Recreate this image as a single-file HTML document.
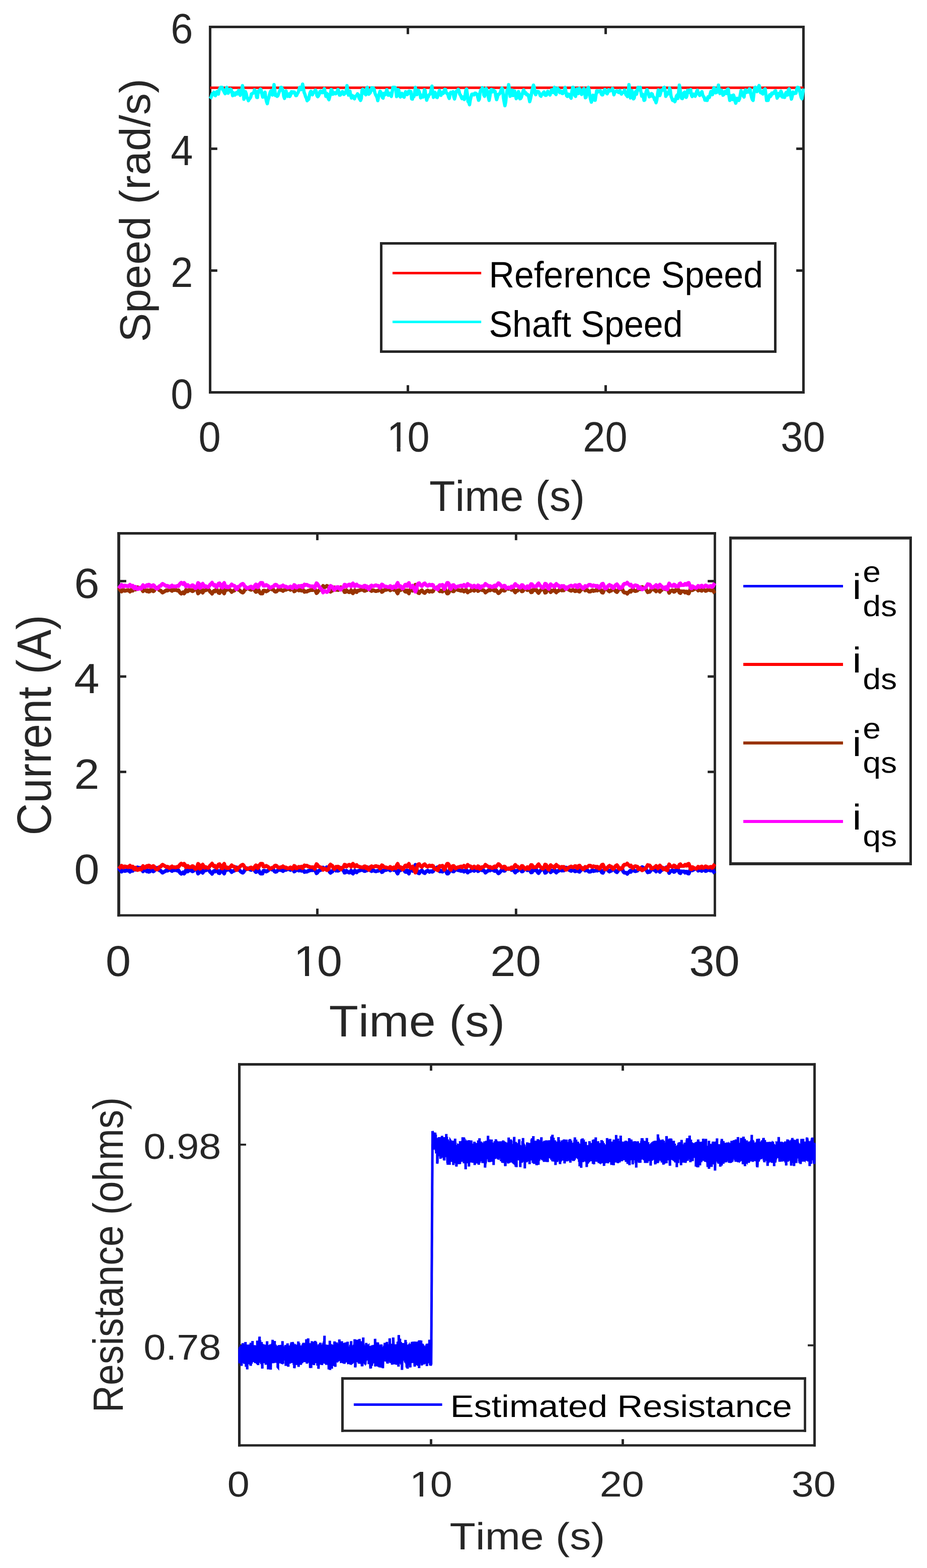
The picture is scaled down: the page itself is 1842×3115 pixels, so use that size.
<!DOCTYPE html>
<html lang="en"><head><meta charset="utf-8"><title>Figure</title>
<style>
html,body{margin:0;padding:0;background:#fff}
body{width:1842px;height:3115px;overflow:hidden}
svg{display:block;font-family:'Liberation Sans', 'DejaVu Sans', sans-serif}
text{font-kerning:none;text-rendering:geometricPrecision}
</style></head><body>
<svg width="1842" height="3115" viewBox="0 0 1842 3115">
<rect width="1842" height="3115" fill="#ffffff"/>
<g id="plot1">
<clipPath id="c1"><rect x="415.0" y="53.5" width="1184.0" height="726.0"/></clipPath>
<rect x="415.00" y="51.00" width="1184.00" height="5.00" fill="#262626"/>
<rect x="415.00" y="777.00" width="1184.00" height="5.00" fill="#262626"/>
<rect x="415.00" y="51.00" width="5.00" height="731.00" fill="#262626"/>
<rect x="1594.00" y="51.00" width="5.00" height="731.00" fill="#262626"/>
<line x1="810.50" y1="779.50" x2="810.50" y2="765.20" stroke="#262626" stroke-width="5" stroke-linecap="butt"/>
<line x1="810.50" y1="53.50" x2="810.50" y2="67.80" stroke="#262626" stroke-width="5" stroke-linecap="butt"/>
<line x1="1203.50" y1="779.50" x2="1203.50" y2="765.20" stroke="#262626" stroke-width="5" stroke-linecap="butt"/>
<line x1="1203.50" y1="53.50" x2="1203.50" y2="67.80" stroke="#262626" stroke-width="5" stroke-linecap="butt"/>
<line x1="417.50" y1="537.50" x2="431.80" y2="537.50" stroke="#262626" stroke-width="5" stroke-linecap="butt"/>
<line x1="1596.50" y1="537.50" x2="1582.20" y2="537.50" stroke="#262626" stroke-width="5" stroke-linecap="butt"/>
<line x1="417.50" y1="295.50" x2="431.80" y2="295.50" stroke="#262626" stroke-width="5" stroke-linecap="butt"/>
<line x1="1596.50" y1="295.50" x2="1582.20" y2="295.50" stroke="#262626" stroke-width="5" stroke-linecap="butt"/>
<rect x="417.50" y="171.80" width="1179.00" height="5.00" fill="#ff0000"/>
<polyline points="417.5,196.0 419.0,194.0 420.5,190.0 422.0,186.0 423.5,186.1 425.0,183.3 426.5,188.9 428.0,190.0 429.5,186.7 430.9,182.2 432.4,186.1 433.9,186.9 435.4,178.8 436.9,175.5 438.4,173.5 439.9,173.5 441.4,173.5 442.9,178.6 444.4,180.1 445.9,183.9 447.4,186.0 448.9,179.1 450.4,173.5 451.9,176.3 453.4,185.2 454.9,182.4 456.4,178.0 457.8,176.8 459.3,178.0 460.8,183.4 462.3,190.1 463.8,184.1 465.3,186.1 466.8,188.8 468.3,186.2 469.8,183.6 471.3,186.5 472.8,183.9 474.3,179.6 475.8,186.4 477.3,189.3 478.8,182.3 480.3,178.0 481.8,170.0 483.2,179.4 484.7,197.1 486.2,191.0 487.7,182.0 489.2,186.0 490.7,193.1 492.2,196.2 493.7,200.0 495.2,196.7 496.7,195.4 498.2,192.9 499.7,186.5 501.2,185.9 502.7,185.1 504.2,183.9 505.7,178.7 507.2,180.7 508.7,185.8 510.1,193.5 511.6,193.6 513.1,181.2 514.6,180.1 516.1,182.5 517.6,176.9 519.1,179.7 520.6,187.6 522.1,193.0 523.6,192.3 525.1,185.6 526.6,183.2 528.1,194.9 529.6,201.7 531.1,206.0 532.6,198.6 534.1,194.0 535.5,188.2 537.0,182.9 538.5,180.4 540.0,182.5 541.5,188.8 543.0,180.2 544.5,168.0 546.0,179.1 547.5,189.7 549.0,188.8 550.5,191.4 552.0,190.5 553.5,186.3 555.0,182.1 556.5,179.5 558.0,173.5 559.5,173.5 561.0,176.4 562.4,181.2 563.9,191.5 565.4,195.5 566.9,186.6 568.4,180.6 569.9,188.3 571.4,191.2 572.9,188.1 574.4,186.6 575.9,191.7 577.4,188.5 578.9,182.3 580.4,184.9 581.9,182.5 583.4,182.7 584.9,182.8 586.4,186.5 587.8,190.0 589.3,189.7 590.8,186.2 592.3,184.0 593.8,179.1 595.3,173.5 596.8,175.8 598.3,178.0 599.8,173.2 601.3,167.0 602.8,174.3 604.3,183.7 605.8,187.0 607.3,192.2 608.8,194.9 610.3,200.0 611.8,197.9 613.3,197.3 614.7,190.3 616.2,183.9 617.7,181.4 619.2,185.0 620.7,188.2 622.2,185.2 623.7,182.4 625.2,181.4 626.7,178.9 628.2,181.1 629.7,189.7 631.2,192.1 632.7,190.6 634.2,187.6 635.7,182.0 637.2,181.0 638.7,182.3 640.2,184.2 641.6,183.8 643.1,179.8 644.6,176.0 646.1,184.0 647.6,191.5 649.1,185.4 650.6,186.8 652.1,195.2 653.6,198.0 655.1,192.4 656.6,186.5 658.1,177.8 659.6,179.2 661.1,187.2 662.6,186.7 664.1,184.0 665.6,184.5 667.0,186.2 668.5,185.2 670.0,181.4 671.5,177.6 673.0,181.3 674.5,188.9 676.0,189.0 677.5,184.6 679.0,186.5 680.5,181.8 682.0,185.2 683.5,187.5 685.0,185.4 686.5,185.3 688.0,179.2 689.5,170.0 691.0,181.4 692.5,188.8 693.9,181.4 695.4,181.2 696.9,190.2 698.4,194.6 699.9,189.7 701.4,190.9 702.9,194.7 704.4,196.2 705.9,192.0 707.4,190.3 708.9,189.8 710.4,186.3 711.9,188.2 713.4,194.5 714.9,196.9 716.4,199.5 717.9,195.4 719.3,180.3 720.8,177.2 722.3,183.3 723.8,185.1 725.3,186.3 726.8,188.2 728.3,175.5 729.8,173.5 731.3,182.1 732.8,187.2 734.3,185.5 735.8,183.9 737.3,177.9 738.8,174.3 740.3,178.9 741.8,174.7 743.3,177.0 744.8,184.0 746.2,187.9 747.7,190.5 749.2,193.6 750.7,200.0 752.2,191.9 753.7,185.9 755.2,181.3 756.7,183.0 758.2,188.6 759.7,193.5 761.2,194.9 762.7,185.6 764.2,187.5 765.7,188.0 767.2,182.4 768.7,178.2 770.2,183.8 771.6,189.1 773.1,188.3 774.6,185.1 776.1,188.7 777.6,191.5 779.1,184.4 780.6,173.5 782.1,173.6 783.6,173.5 785.1,173.5 786.6,179.5 788.1,191.9 789.6,186.5 791.1,177.8 792.6,180.2 794.1,190.5 795.6,192.6 797.1,188.1 798.5,185.4 800.0,187.9 801.5,191.9 803.0,193.0 804.5,185.6 806.0,182.3 807.5,185.5 809.0,187.9 810.5,186.8 812.0,181.4 813.5,181.0 815.0,182.0 816.5,182.1 818.0,196.5 819.5,196.9 821.0,190.3 822.5,192.0 823.9,184.7 825.4,173.5 826.9,181.6 828.4,188.1 829.9,183.3 831.4,179.5 832.9,181.7 834.4,186.5 835.9,194.4 837.4,189.2 838.9,190.3 840.4,192.8 841.9,186.4 843.4,178.4 844.9,180.3 846.4,192.3 847.9,199.1 849.4,193.6 850.8,192.7 852.3,188.7 853.8,187.4 855.3,185.4 856.8,177.5 858.3,171.0 859.8,183.9 861.3,193.5 862.8,185.5 864.3,183.5 865.8,187.9 867.3,193.2 868.8,193.8 870.3,189.5 871.8,182.7 873.3,179.8 874.8,185.3 876.2,189.4 877.7,185.9 879.2,183.2 880.7,185.7 882.2,182.0 883.7,177.4 885.2,177.8 886.7,183.7 888.2,186.1 889.7,186.1 891.2,192.4 892.7,195.5 894.2,187.7 895.7,183.4 897.2,186.0 898.7,184.3 900.2,182.2 901.7,192.3 903.1,196.6 904.6,191.1 906.1,182.1 907.6,180.7 909.1,181.7 910.6,177.3 912.1,180.9 913.6,187.3 915.1,189.0 916.6,193.1 918.1,195.9 919.6,192.6 921.1,193.4 922.6,197.6 924.1,190.0 925.6,179.9 927.1,176.8 928.5,186.4 930.0,201.6 931.5,203.1 933.0,208.0 934.5,198.4 936.0,192.4 937.5,187.3 939.0,186.9 940.5,188.2 942.0,188.4 943.5,185.1 945.0,185.1 946.5,187.3 948.0,187.1 949.5,193.7 951.0,199.2 952.5,196.7 954.0,183.2 955.4,178.7 956.9,178.9 958.4,174.1 959.9,177.2 961.4,188.7 962.9,191.3 964.4,181.6 965.9,175.4 967.4,178.8 968.9,183.7 970.4,193.0 971.9,199.5 973.4,191.5 974.9,180.4 976.4,177.7 977.9,182.5 979.4,180.8 980.8,179.3 982.3,182.5 983.8,181.7 985.3,191.8 986.8,198.0 988.3,193.4 989.8,187.5 991.3,187.6 992.8,186.1 994.3,183.2 995.8,178.6 997.3,174.9 998.8,176.9 1000.3,193.9 1001.8,202.8 1003.3,210.0 1004.8,202.9 1006.3,188.4 1007.7,179.2 1009.2,177.7 1010.7,168.0 1012.2,178.7 1013.7,191.3 1015.2,187.0 1016.7,179.0 1018.2,179.3 1019.7,189.7 1021.2,185.6 1022.7,181.0 1024.2,188.6 1025.7,195.9 1027.2,194.1 1028.7,188.0 1030.2,181.9 1031.7,186.4 1033.2,196.2 1034.6,195.6 1036.1,193.0 1037.6,187.5 1039.1,181.8 1040.6,178.8 1042.1,182.7 1043.6,186.0 1045.1,184.6 1046.6,188.4 1048.1,187.3 1049.6,188.5 1051.1,194.7 1052.6,202.0 1054.1,196.1 1055.6,189.0 1057.1,179.7 1058.6,174.2 1060.0,169.0 1061.5,173.1 1063.0,185.8 1064.5,188.1 1066.0,181.9 1067.5,181.9 1069.0,181.8 1070.5,182.5 1072.0,185.7 1073.5,189.8 1075.0,191.2 1076.5,187.0 1078.0,186.7 1079.5,184.0 1081.0,182.7 1082.5,188.5 1084.0,189.4 1085.5,189.3 1086.9,185.8 1088.4,181.4 1089.9,183.6 1091.4,186.8 1092.9,188.7 1094.4,183.8 1095.9,178.5 1097.4,179.3 1098.9,183.7 1100.4,177.4 1101.9,173.5 1103.4,186.2 1104.9,187.7 1106.4,177.5 1107.9,175.1 1109.4,177.2 1110.9,179.0 1112.3,184.1 1113.8,180.9 1115.3,181.3 1116.8,185.8 1118.3,185.9 1119.8,183.7 1121.3,179.7 1122.8,173.5 1124.3,181.1 1125.8,190.0 1127.3,191.6 1128.8,186.8 1130.3,187.3 1131.8,188.0 1133.3,193.0 1134.8,195.0 1136.3,182.3 1137.8,173.5 1139.2,173.5 1140.7,179.3 1142.2,189.6 1143.7,191.5 1145.2,180.4 1146.7,176.7 1148.2,186.0 1149.7,185.6 1151.2,175.4 1152.7,178.0 1154.2,183.7 1155.7,187.7 1157.2,182.1 1158.7,179.4 1160.2,175.9 1161.7,182.6 1163.2,194.2 1164.6,193.3 1166.1,184.1 1167.6,176.0 1169.1,173.5 1170.6,178.9 1172.1,191.0 1173.6,197.7 1175.1,203.0 1176.6,195.5 1178.1,189.2 1179.6,189.7 1181.1,198.8 1182.6,199.2 1184.1,189.4 1185.6,180.5 1187.1,183.6 1188.6,180.7 1190.1,181.4 1191.5,181.7 1193.0,180.2 1194.5,186.0 1196.0,188.4 1197.5,188.5 1199.0,184.6 1200.5,180.0 1202.0,177.8 1203.5,182.6 1205.0,185.2 1206.5,186.3 1208.0,183.3 1209.5,178.1 1211.0,180.6 1212.5,180.5 1214.0,179.6 1215.5,179.1 1216.9,175.6 1218.4,181.1 1219.9,188.3 1221.4,183.8 1222.9,182.7 1224.4,181.1 1225.9,180.5 1227.4,181.5 1228.9,183.5 1230.4,181.7 1231.9,179.9 1233.4,185.0 1234.9,186.9 1236.4,183.8 1237.9,184.1 1239.4,183.4 1240.9,178.8 1242.4,184.0 1243.8,188.2 1245.3,189.8 1246.8,191.9 1248.3,181.5 1249.8,168.0 1251.3,182.3 1252.8,194.5 1254.3,184.6 1255.8,180.2 1257.3,189.9 1258.8,196.4 1260.3,194.4 1261.8,185.1 1263.3,181.7 1264.8,187.2 1266.3,180.3 1267.8,173.5 1269.2,178.4 1270.7,176.8 1272.2,173.6 1273.7,183.7 1275.2,191.0 1276.7,187.0 1278.2,191.2 1279.7,199.5 1281.2,198.6 1282.7,187.6 1284.2,181.4 1285.7,178.1 1287.2,182.1 1288.7,186.0 1290.2,192.3 1291.7,189.7 1293.2,190.8 1294.7,186.0 1296.1,187.0 1297.6,191.8 1299.1,193.2 1300.6,198.1 1302.1,199.3 1303.6,204.0 1305.1,198.5 1306.6,187.0 1308.1,178.5 1309.6,184.3 1311.1,189.9 1312.6,185.0 1314.1,178.9 1315.6,178.6 1317.1,179.1 1318.6,174.4 1320.1,173.5 1321.5,179.7 1323.0,191.4 1324.5,188.4 1326.0,184.2 1327.5,186.7 1329.0,184.9 1330.5,174.9 1332.0,180.0 1333.5,191.9 1335.0,195.2 1336.5,199.5 1338.0,199.7 1339.5,198.3 1341.0,202.0 1342.5,197.6 1344.0,191.2 1345.5,188.7 1347.0,195.6 1348.4,183.9 1349.9,169.0 1351.4,177.2 1352.9,189.8 1354.4,195.3 1355.9,195.8 1357.4,192.0 1358.9,184.2 1360.4,183.1 1361.9,186.7 1363.4,193.5 1364.9,190.3 1366.4,179.2 1367.9,179.2 1369.4,183.6 1370.9,179.6 1372.4,178.0 1373.8,188.8 1375.3,191.8 1376.8,189.0 1378.3,187.1 1379.8,190.1 1381.3,191.2 1382.8,187.9 1384.3,181.6 1385.8,179.3 1387.3,184.2 1388.8,186.7 1390.3,189.6 1391.8,186.9 1393.3,183.9 1394.8,182.2 1396.3,188.6 1397.8,191.7 1399.3,193.3 1400.7,199.0 1402.2,199.0 1403.7,199.3 1405.2,199.5 1406.7,192.4 1408.2,191.9 1409.7,193.4 1411.2,186.7 1412.7,181.8 1414.2,185.9 1415.7,188.1 1417.2,179.1 1418.7,174.1 1420.2,175.8 1421.7,184.5 1423.2,182.2 1424.7,183.2 1426.2,179.5 1427.6,169.0 1429.1,178.6 1430.6,185.8 1432.1,181.3 1433.6,179.3 1435.1,182.7 1436.6,189.2 1438.1,188.1 1439.6,182.2 1441.1,181.6 1442.6,185.4 1444.1,185.7 1445.6,177.2 1447.1,176.8 1448.6,190.8 1450.1,199.5 1451.6,197.8 1453.0,190.1 1454.5,194.5 1456.0,197.7 1457.5,188.8 1459.0,192.9 1460.5,200.9 1462.0,205.0 1463.5,199.9 1465.0,195.3 1466.5,198.6 1468.0,199.5 1469.5,196.2 1471.0,187.9 1472.5,180.1 1474.0,185.4 1475.5,188.1 1477.0,190.7 1478.5,192.7 1479.9,181.0 1481.4,178.8 1482.9,183.6 1484.4,183.1 1485.9,181.9 1487.4,182.7 1488.9,176.5 1490.4,177.1 1491.9,186.7 1493.4,193.3 1494.9,197.6 1496.4,199.5 1497.9,187.2 1499.4,175.2 1500.9,173.5 1502.4,178.4 1503.9,182.0 1505.3,181.0 1506.8,173.4 1508.3,170.0 1509.8,175.4 1511.3,184.2 1512.8,184.3 1514.3,185.1 1515.8,186.6 1517.3,180.2 1518.8,178.4 1520.3,176.4 1521.8,186.7 1523.3,199.5 1524.8,199.5 1526.3,199.5 1527.8,193.2 1529.3,188.4 1530.8,191.7 1532.2,189.9 1533.7,184.8 1535.2,186.5 1536.7,184.2 1538.2,185.1 1539.7,180.9 1541.2,180.3 1542.7,187.6 1544.2,194.9 1545.7,191.5 1547.2,185.5 1548.7,190.1 1550.2,190.1 1551.7,181.0 1553.2,183.9 1554.7,192.8 1556.2,190.7 1557.6,193.3 1559.1,193.5 1560.6,186.4 1562.1,183.7 1563.6,189.0 1565.1,188.7 1566.6,178.4 1568.1,176.6 1569.6,183.6 1571.1,189.6 1572.6,196.8 1574.1,191.3 1575.6,182.8 1577.1,185.1 1578.6,185.9 1580.1,184.3 1581.6,185.0 1583.1,177.1 1584.5,173.5 1586.0,173.7 1587.5,174.8 1589.0,180.9 1590.5,187.1 1592.0,193.6 1593.5,196.2 1595.0,186.2 1596.5,176.0" fill="none" stroke="#00ffff" stroke-width="6.6" stroke-linejoin="round" stroke-linecap="butt" clip-path="url(#c1)"/>
<text transform="translate(383.50,812.10) scale(1.0000,1.0608)" font-size="79.4" text-anchor="end" fill="#262626">0</text>
<text transform="translate(383.50,570.10) scale(1.0000,1.0608)" font-size="79.4" text-anchor="end" fill="#262626">2</text>
<text transform="translate(383.50,328.10) scale(1.0000,1.0608)" font-size="79.4" text-anchor="end" fill="#262626">4</text>
<text transform="translate(383.50,86.10) scale(1.0000,1.0608)" font-size="79.4" text-anchor="end" fill="#262626">6</text>
<text transform="translate(416.50,897.00) scale(1.0000,1.0608)" font-size="79.4" text-anchor="middle" fill="#262626">0</text>
<g transform="translate(765.34,897.00) scale(1.0000,1.0608)">
<text font-size="79.4" fill="#262626"><tspan dx="3.37">1</tspan><tspan dx="-3.37">0</tspan></text>
<rect x="7.87" y="-8.26" width="15.47" height="9.81" fill="#fff"/>
<rect x="30.36" y="-8.26" width="15.24" height="9.81" fill="#fff"/>
</g>
<text transform="translate(1202.50,897.00) scale(1.0000,1.0608)" font-size="79.4" text-anchor="middle" fill="#262626">20</text>
<text transform="translate(1595.50,897.00) scale(1.0000,1.0608)" font-size="79.4" text-anchor="middle" fill="#262626">30</text>
<text transform="translate(1007.60,1015.00) scale(0.9970,1.0100)" font-size="84.6" text-anchor="middle" fill="#262626">Time (s)</text>
<text transform="translate(298.10,417.90) rotate(-90) scale(1.0210,1.0100)" font-size="84.6" text-anchor="middle" fill="#262626">Speed (rad/s)</text>
<rect x="755.00" y="481.00" width="788.00" height="220.00" fill="#ffffff"/>
<rect x="755.00" y="481.00" width="788.00" height="5.00" fill="#262626"/>
<rect x="755.00" y="696.00" width="788.00" height="5.00" fill="#262626"/>
<rect x="755.00" y="481.00" width="5.00" height="220.00" fill="#262626"/>
<rect x="1538.00" y="481.00" width="5.00" height="220.00" fill="#262626"/>
<rect x="780.00" y="540.00" width="176.20" height="5.00" fill="#ff0000"/>
<rect x="780.00" y="637.00" width="176.20" height="5.00" fill="#00ffff"/>
<text transform="translate(971.40,570.60) scale(1.0000,1.0450)" font-size="70" text-anchor="start" fill="#000">Reference Speed</text>
<text transform="translate(971.40,668.50) scale(1.0000,1.0450)" font-size="70" text-anchor="start" fill="#000">Shaft Speed</text>
</g>
<g id="plot2">
<clipPath id="c2"><rect x="233.3" y="1059.55" width="1189.9" height="758.9000000000001"/></clipPath>
<rect x="233.10" y="1057.00" width="1189.80" height="5.10" fill="#262626"/>
<rect x="233.10" y="1816.20" width="1189.80" height="4.50" fill="#262626"/>
<rect x="233.10" y="1057.00" width="5.80" height="763.70" fill="#262626"/>
<rect x="1418.10" y="1057.00" width="4.80" height="763.70" fill="#262626"/>
<rect x="628.10" y="1805.05" width="4.90" height="11.45" fill="#262626"/>
<rect x="628.10" y="1061.80" width="4.90" height="11.35" fill="#262626"/>
<rect x="1022.95" y="1805.05" width="4.90" height="11.45" fill="#262626"/>
<rect x="1022.95" y="1061.80" width="4.90" height="11.35" fill="#262626"/>
<rect x="238.60" y="1720.48" width="12.30" height="4.90" fill="#262626"/>
<rect x="1406.20" y="1720.48" width="12.20" height="4.90" fill="#262626"/>
<rect x="238.60" y="1531.00" width="12.30" height="4.90" fill="#262626"/>
<rect x="1406.20" y="1531.00" width="12.20" height="4.90" fill="#262626"/>
<rect x="238.60" y="1341.52" width="12.30" height="4.90" fill="#262626"/>
<rect x="1406.20" y="1341.52" width="12.20" height="4.90" fill="#262626"/>
<rect x="238.60" y="1152.04" width="12.30" height="4.90" fill="#262626"/>
<rect x="1406.20" y="1152.04" width="12.20" height="4.90" fill="#262626"/>
<polyline points="236.0,1723.0 237.9,1727.5 239.7,1729.6 241.6,1731.6 243.4,1728.7 245.3,1728.0 247.1,1730.3 249.0,1730.2 250.8,1729.2 252.7,1729.5 254.5,1728.6 256.4,1730.0 258.2,1731.8 260.1,1728.5 262.0,1729.8 263.8,1730.1 265.7,1725.6 267.5,1724.3 269.4,1727.8 271.2,1725.1 273.1,1723.1 274.9,1723.6 276.8,1725.9 278.6,1723.9 280.5,1723.9 282.3,1727.9 284.2,1731.0 286.0,1727.7 287.9,1727.3 289.8,1729.7 291.6,1731.1 293.5,1729.2 295.3,1732.0 297.2,1731.7 299.0,1728.2 300.9,1727.9 302.7,1730.0 304.6,1731.2 306.4,1729.9 308.3,1726.5 310.1,1724.6 312.0,1724.0 313.9,1724.8 315.7,1728.1 317.6,1729.6 319.4,1729.7 321.3,1732.4 323.1,1733.8 325.0,1732.4 326.8,1731.6 328.7,1730.2 330.5,1728.9 332.4,1729.8 334.2,1729.0 336.1,1727.0 338.0,1727.4 339.8,1729.2 341.7,1730.4 343.5,1728.4 345.4,1728.6 347.2,1728.9 349.1,1728.0 350.9,1728.9 352.8,1729.8 354.6,1729.1 356.5,1732.1 358.3,1734.4 360.2,1736.0 362.1,1734.4 363.9,1733.0 365.8,1735.5 367.6,1733.5 369.5,1728.4 371.3,1729.1 373.2,1731.3 375.0,1728.5 376.9,1728.5 378.7,1729.3 380.6,1728.8 382.4,1731.1 384.3,1730.3 386.1,1727.1 388.0,1724.9 389.9,1725.5 391.7,1729.7 393.6,1735.5 395.4,1734.0 397.3,1725.6 399.1,1726.4 401.0,1731.8 402.8,1734.0 404.7,1730.7 406.5,1727.4 408.4,1729.2 410.2,1728.6 412.1,1727.4 414.0,1727.2 415.8,1729.0 417.7,1732.3 419.5,1733.7 421.4,1736.0 423.2,1732.2 425.1,1730.3 426.9,1731.5 428.8,1728.3 430.6,1727.1 432.5,1730.9 434.3,1734.2 436.2,1734.8 438.1,1730.2 439.9,1727.1 441.8,1726.2 443.6,1733.2 445.5,1735.5 447.3,1729.4 449.2,1727.2 451.0,1728.4 452.9,1726.6 454.7,1727.1 456.6,1728.7 458.4,1729.9 460.3,1732.5 462.1,1730.9 464.0,1730.3 465.9,1729.7 467.7,1726.7 469.6,1723.0 471.4,1723.6 473.3,1728.0 475.1,1728.3 477.0,1729.7 478.8,1732.0 480.7,1733.0 482.5,1733.8 484.4,1731.9 486.2,1728.1 488.1,1727.6 490.0,1725.4 491.8,1725.0 493.7,1725.7 495.5,1726.8 497.4,1727.9 499.2,1728.3 501.1,1725.7 502.9,1724.5 504.8,1726.7 506.6,1730.3 508.5,1732.5 510.3,1731.5 512.2,1726.6 514.1,1728.7 515.9,1733.1 517.8,1735.5 519.6,1735.5 521.5,1735.5 523.3,1730.0 525.2,1729.8 527.0,1730.2 528.9,1731.6 530.7,1730.5 532.6,1729.7 534.4,1727.5 536.3,1725.3 538.1,1726.2 540.0,1727.5 541.9,1728.0 543.7,1728.3 545.6,1731.2 547.4,1732.0 549.3,1731.7 551.1,1729.8 553.0,1727.7 554.8,1727.6 556.7,1728.6 558.5,1728.3 560.4,1729.3 562.2,1730.6 564.1,1729.1 566.0,1727.8 567.8,1728.4 569.7,1727.4 571.5,1726.2 573.4,1726.7 575.2,1727.2 577.1,1728.4 578.9,1727.2 580.8,1725.1 582.6,1727.5 584.5,1731.4 586.3,1730.6 588.2,1726.4 590.1,1726.3 591.9,1728.4 593.8,1729.6 595.6,1728.2 597.5,1729.5 599.3,1730.0 601.2,1726.7 603.0,1729.4 604.9,1732.3 606.7,1731.0 608.6,1731.9 610.4,1731.6 612.3,1730.0 614.2,1729.8 616.0,1729.0 617.9,1728.7 619.7,1728.5 621.6,1728.7 623.4,1728.0 625.3,1725.5 627.1,1730.7 629.0,1734.9 630.8,1733.4 632.7,1730.2 634.5,1729.6 636.4,1728.6 638.2,1728.2 640.1,1726.9 642.0,1723.5 643.8,1725.8 645.7,1725.9 647.5,1724.5 649.4,1722.8 651.2,1723.6 653.1,1725.6 654.9,1731.9 656.8,1734.0 658.6,1732.5 660.5,1731.5 662.3,1727.6 664.2,1724.8 666.1,1726.9 667.9,1729.7 669.8,1728.3 671.6,1730.0 673.5,1729.1 675.3,1725.4 677.2,1724.2 679.0,1727.2 680.9,1728.1 682.7,1729.2 684.6,1733.7 686.4,1733.3 688.3,1729.8 690.2,1731.1 692.0,1732.8 693.9,1733.7 695.7,1732.9 697.6,1729.5 699.4,1733.9 701.3,1735.5 703.1,1733.0 705.0,1729.4 706.8,1732.4 708.7,1733.2 710.5,1730.5 712.4,1730.0 714.2,1729.8 716.1,1728.7 718.0,1728.6 719.8,1728.3 721.7,1727.8 723.5,1730.4 725.4,1730.6 727.2,1726.9 729.1,1729.0 730.9,1725.6 732.8,1723.4 734.6,1725.0 736.5,1729.6 738.3,1730.7 740.2,1729.1 742.1,1729.3 743.9,1730.0 745.8,1730.8 747.6,1731.0 749.5,1730.0 751.3,1730.1 753.2,1729.3 755.0,1726.0 756.9,1727.5 758.7,1732.6 760.6,1731.8 762.4,1729.5 764.3,1728.4 766.2,1728.6 768.0,1728.2 769.9,1727.4 771.7,1727.4 773.6,1727.2 775.4,1729.4 777.3,1728.2 779.1,1724.8 781.0,1726.6 782.8,1728.6 784.7,1727.9 786.5,1726.3 788.4,1732.7 790.2,1735.5 792.1,1730.3 794.0,1727.9 795.8,1729.1 797.7,1727.7 799.5,1724.2 801.4,1725.1 803.2,1728.6 805.1,1731.9 806.9,1732.3 808.8,1729.4 810.6,1732.7 812.5,1735.5 814.3,1729.2 816.2,1726.6 818.1,1727.7 819.9,1730.2 821.8,1726.2 823.6,1721.8 825.5,1718.0 827.3,1722.4 829.2,1731.4 831.0,1734.3 832.9,1735.0 834.7,1731.5 836.6,1730.4 838.4,1729.2 840.3,1731.9 842.2,1733.8 844.0,1734.7 845.9,1732.2 847.7,1730.7 849.6,1729.6 851.4,1730.6 853.3,1732.2 855.1,1730.9 857.0,1730.7 858.8,1732.0 860.7,1731.1 862.5,1727.1 864.4,1725.0 866.3,1725.7 868.1,1723.4 870.0,1722.5 871.8,1729.0 873.7,1731.2 875.5,1729.8 877.4,1731.3 879.2,1731.8 881.1,1727.5 882.9,1723.3 884.8,1727.3 886.6,1731.8 888.5,1735.5 890.3,1735.5 892.2,1733.0 894.1,1725.6 895.9,1723.4 897.8,1727.7 899.6,1731.1 901.5,1731.2 903.3,1729.2 905.2,1726.0 907.0,1727.4 908.9,1728.2 910.7,1728.9 912.6,1729.0 914.4,1729.7 916.3,1730.3 918.2,1728.2 920.0,1730.1 921.9,1731.8 923.7,1730.5 925.6,1728.0 927.4,1729.0 929.3,1733.5 931.1,1731.5 933.0,1731.0 934.8,1730.6 936.7,1728.0 938.5,1726.7 940.4,1729.2 942.3,1730.2 944.1,1728.7 946.0,1726.7 947.8,1726.8 949.7,1730.7 951.5,1729.7 953.4,1725.2 955.2,1726.0 957.1,1728.6 958.9,1729.1 960.8,1729.0 962.6,1730.4 964.5,1733.7 966.3,1732.2 968.2,1730.9 970.1,1729.5 971.9,1728.2 973.8,1729.4 975.6,1728.3 977.5,1726.9 979.3,1727.3 981.2,1729.5 983.0,1730.4 984.9,1728.1 986.7,1729.7 988.6,1732.9 990.4,1735.0 992.3,1733.8 994.2,1731.8 996.0,1729.1 997.9,1727.5 999.7,1728.7 1001.6,1730.1 1003.4,1729.6 1005.3,1724.8 1007.1,1725.3 1009.0,1726.1 1010.8,1726.5 1012.7,1725.1 1014.5,1725.1 1016.4,1728.3 1018.3,1727.1 1020.1,1727.3 1022.0,1730.9 1023.8,1733.4 1025.7,1730.0 1027.5,1730.5 1029.4,1729.1 1031.2,1727.5 1033.1,1725.9 1034.9,1726.5 1036.8,1731.3 1038.6,1731.1 1040.5,1728.5 1042.3,1726.2 1044.2,1724.8 1046.1,1727.3 1047.9,1728.9 1049.8,1725.4 1051.6,1725.4 1053.5,1730.1 1055.3,1733.2 1057.2,1732.8 1059.0,1728.4 1060.9,1728.1 1062.7,1729.1 1064.6,1728.8 1066.4,1728.8 1068.3,1732.7 1070.2,1734.5 1072.0,1731.5 1073.9,1729.4 1075.7,1727.8 1077.6,1725.7 1079.4,1725.6 1081.3,1728.8 1083.1,1734.0 1085.0,1733.4 1086.8,1730.0 1088.7,1725.1 1090.5,1723.6 1092.4,1730.0 1094.3,1732.9 1096.1,1729.6 1098.0,1730.3 1099.8,1729.7 1101.7,1727.5 1103.5,1731.4 1105.4,1733.5 1107.2,1730.4 1109.1,1730.8 1110.9,1729.1 1112.8,1726.6 1114.6,1728.8 1116.5,1729.6 1118.4,1728.3 1120.2,1729.5 1122.1,1727.2 1123.9,1723.5 1125.8,1723.6 1127.6,1726.8 1129.5,1727.4 1131.3,1728.5 1133.2,1729.6 1135.0,1730.2 1136.9,1729.0 1138.7,1728.3 1140.6,1729.4 1142.4,1731.0 1144.3,1730.9 1146.2,1727.1 1148.0,1726.7 1149.9,1731.4 1151.7,1731.9 1153.6,1729.1 1155.4,1727.9 1157.3,1725.5 1159.1,1724.5 1161.0,1726.0 1162.8,1729.5 1164.7,1728.3 1166.5,1728.3 1168.4,1730.0 1170.3,1731.7 1172.1,1731.8 1174.0,1731.3 1175.8,1729.4 1177.7,1729.0 1179.5,1730.7 1181.4,1729.9 1183.2,1729.8 1185.1,1727.9 1186.9,1729.7 1188.8,1728.7 1190.6,1725.6 1192.5,1726.4 1194.4,1730.7 1196.2,1733.4 1198.1,1734.0 1199.9,1730.2 1201.8,1724.4 1203.6,1724.7 1205.5,1725.5 1207.3,1728.2 1209.2,1730.3 1211.0,1731.6 1212.9,1729.5 1214.7,1730.0 1216.6,1726.5 1218.4,1724.9 1220.3,1726.8 1222.2,1730.0 1224.0,1731.8 1225.9,1732.9 1227.7,1730.5 1229.6,1725.8 1231.4,1724.9 1233.3,1726.9 1235.1,1725.7 1237.0,1727.5 1238.8,1732.1 1240.7,1733.9 1242.5,1733.7 1244.4,1734.0 1246.3,1736.0 1248.1,1734.0 1250.0,1732.1 1251.8,1730.2 1253.7,1732.0 1255.5,1728.7 1257.4,1726.9 1259.2,1728.4 1261.1,1730.4 1262.9,1730.9 1264.8,1730.1 1266.6,1729.8 1268.5,1724.6 1270.4,1724.9 1272.2,1727.0 1274.1,1724.9 1275.9,1722.5 1277.8,1723.3 1279.6,1725.3 1281.5,1725.5 1283.3,1726.6 1285.2,1729.7 1287.0,1733.1 1288.9,1732.3 1290.7,1732.4 1292.6,1730.1 1294.4,1726.0 1296.3,1726.3 1298.2,1727.1 1300.0,1728.5 1301.9,1729.1 1303.7,1731.3 1305.6,1728.9 1307.4,1726.1 1309.3,1729.7 1311.1,1732.2 1313.0,1729.6 1314.8,1728.7 1316.7,1726.1 1318.5,1724.4 1320.4,1726.3 1322.3,1727.1 1324.1,1723.1 1326.0,1722.5 1327.8,1729.6 1329.7,1734.4 1331.5,1731.7 1333.4,1730.4 1335.2,1729.3 1337.1,1729.5 1338.9,1732.3 1340.8,1731.5 1342.6,1728.5 1344.5,1729.4 1346.4,1728.8 1348.2,1728.2 1350.1,1733.8 1351.9,1734.7 1353.8,1731.0 1355.6,1731.4 1357.5,1731.3 1359.3,1731.2 1361.2,1733.6 1363.0,1731.7 1364.9,1731.8 1366.7,1735.2 1368.6,1735.5 1370.5,1731.1 1372.3,1725.2 1374.2,1724.6 1376.0,1729.0 1377.9,1727.9 1379.7,1726.9 1381.6,1726.3 1383.4,1725.5 1385.3,1726.6 1387.1,1729.7 1389.0,1728.5 1390.8,1727.2 1392.7,1729.6 1394.5,1730.2 1396.4,1727.4 1398.3,1727.4 1400.1,1728.7 1402.0,1730.6 1403.8,1730.0 1405.7,1728.3 1407.5,1727.8 1409.4,1728.9 1411.2,1729.1 1413.1,1729.6 1414.9,1727.2 1416.8,1728.5 1418.6,1732.3 1420.5,1735.1" fill="none" stroke="#0000ff" stroke-width="7.4" stroke-linejoin="round" stroke-linecap="butt" clip-path="url(#c2)"/>
<polyline points="236.0,1726.0 237.9,1724.0 239.7,1721.9 241.6,1719.9 243.4,1722.8 245.3,1723.5 247.1,1721.2 249.0,1721.3 250.8,1722.3 252.7,1722.0 254.5,1722.9 256.4,1721.5 258.2,1719.7 260.1,1723.0 262.0,1721.7 263.8,1721.4 265.7,1725.9 267.5,1727.2 269.4,1723.7 271.2,1726.4 273.1,1728.4 274.9,1727.9 276.8,1725.6 278.6,1727.6 280.5,1727.6 282.3,1723.6 284.2,1720.5 286.0,1723.8 287.9,1724.2 289.8,1721.8 291.6,1720.4 293.5,1722.3 295.3,1719.5 297.2,1719.8 299.0,1723.3 300.9,1723.6 302.7,1721.5 304.6,1720.3 306.4,1721.6 308.3,1725.0 310.1,1726.9 312.0,1727.5 313.9,1726.7 315.7,1723.4 317.6,1721.9 319.4,1721.8 321.3,1719.1 323.1,1717.7 325.0,1719.1 326.8,1719.9 328.7,1721.3 330.5,1722.6 332.4,1721.7 334.2,1722.5 336.1,1724.5 338.0,1724.1 339.8,1722.3 341.7,1721.1 343.5,1723.1 345.4,1722.9 347.2,1722.6 349.1,1723.5 350.9,1722.6 352.8,1721.7 354.6,1722.4 356.5,1719.4 358.3,1717.1 360.2,1715.5 362.1,1717.1 363.9,1718.5 365.8,1716.0 367.6,1718.0 369.5,1723.1 371.3,1722.4 373.2,1720.2 375.0,1723.0 376.9,1723.0 378.7,1722.2 380.6,1722.7 382.4,1720.4 384.3,1721.2 386.1,1724.4 388.0,1726.6 389.9,1726.0 391.7,1721.8 393.6,1716.0 395.4,1717.5 397.3,1725.9 399.1,1725.1 401.0,1719.7 402.8,1717.5 404.7,1720.8 406.5,1724.1 408.4,1722.3 410.2,1722.9 412.1,1724.1 414.0,1724.3 415.8,1722.5 417.7,1719.2 419.5,1717.8 421.4,1715.5 423.2,1719.3 425.1,1721.2 426.9,1720.0 428.8,1723.2 430.6,1724.4 432.5,1720.6 434.3,1717.3 436.2,1716.7 438.1,1721.3 439.9,1724.4 441.8,1725.3 443.6,1718.3 445.5,1716.0 447.3,1722.1 449.2,1724.3 451.0,1723.1 452.9,1724.9 454.7,1724.4 456.6,1722.8 458.4,1721.6 460.3,1719.0 462.1,1720.6 464.0,1721.2 465.9,1721.8 467.7,1724.8 469.6,1728.5 471.4,1727.9 473.3,1723.5 475.1,1723.2 477.0,1721.8 478.8,1719.5 480.7,1718.5 482.5,1717.7 484.4,1719.6 486.2,1723.4 488.1,1723.9 490.0,1726.1 491.8,1726.5 493.7,1725.8 495.5,1724.7 497.4,1723.6 499.2,1723.2 501.1,1725.8 502.9,1727.0 504.8,1724.8 506.6,1721.2 508.5,1719.0 510.3,1720.0 512.2,1724.9 514.1,1722.8 515.9,1718.4 517.8,1716.0 519.6,1716.0 521.5,1716.0 523.3,1721.5 525.2,1721.7 527.0,1721.3 528.9,1719.9 530.7,1721.0 532.6,1721.8 534.4,1724.0 536.3,1726.2 538.1,1725.3 540.0,1724.0 541.9,1723.5 543.7,1723.2 545.6,1720.3 547.4,1719.5 549.3,1719.8 551.1,1721.7 553.0,1723.8 554.8,1723.9 556.7,1722.9 558.5,1723.2 560.4,1722.2 562.2,1720.9 564.1,1722.4 566.0,1723.7 567.8,1723.1 569.7,1724.1 571.5,1725.3 573.4,1724.8 575.2,1724.3 577.1,1723.1 578.9,1724.3 580.8,1726.4 582.6,1724.0 584.5,1720.1 586.3,1720.9 588.2,1725.1 590.1,1725.2 591.9,1723.1 593.8,1721.9 595.6,1723.3 597.5,1722.0 599.3,1721.5 601.2,1724.8 603.0,1722.1 604.9,1719.2 606.7,1720.5 608.6,1719.6 610.4,1719.9 612.3,1721.5 614.2,1721.7 616.0,1722.5 617.9,1722.8 619.7,1723.0 621.6,1722.8 623.4,1723.5 625.3,1726.0 627.1,1720.8 629.0,1716.6 630.8,1718.1 632.7,1721.3 634.5,1721.9 636.4,1722.9 638.2,1723.3 640.1,1724.6 642.0,1728.0 643.8,1725.7 645.7,1725.6 647.5,1727.0 649.4,1728.7 651.2,1727.9 653.1,1725.9 654.9,1719.6 656.8,1717.5 658.6,1719.0 660.5,1720.0 662.3,1723.9 664.2,1726.7 666.1,1724.6 667.9,1721.8 669.8,1723.2 671.6,1721.5 673.5,1722.4 675.3,1726.1 677.2,1727.3 679.0,1724.3 680.9,1723.4 682.7,1722.3 684.6,1717.8 686.4,1718.2 688.3,1721.7 690.2,1720.4 692.0,1718.7 693.9,1717.8 695.7,1718.6 697.6,1722.0 699.4,1717.6 701.3,1716.0 703.1,1718.5 705.0,1722.1 706.8,1719.1 708.7,1718.3 710.5,1721.0 712.4,1721.5 714.2,1721.7 716.1,1722.8 718.0,1722.9 719.8,1723.2 721.7,1723.7 723.5,1721.1 725.4,1720.9 727.2,1724.6 729.1,1722.5 730.9,1725.9 732.8,1728.1 734.6,1726.5 736.5,1721.9 738.3,1720.8 740.2,1722.4 742.1,1722.2 743.9,1721.5 745.8,1720.7 747.6,1720.5 749.5,1721.5 751.3,1721.4 753.2,1722.2 755.0,1725.5 756.9,1724.0 758.7,1718.9 760.6,1719.7 762.4,1722.0 764.3,1723.1 766.2,1722.9 768.0,1723.3 769.9,1724.1 771.7,1724.1 773.6,1724.3 775.4,1722.1 777.3,1723.3 779.1,1726.7 781.0,1724.9 782.8,1722.9 784.7,1723.6 786.5,1725.2 788.4,1718.8 790.2,1716.0 792.1,1721.2 794.0,1723.6 795.8,1722.4 797.7,1723.8 799.5,1727.3 801.4,1726.4 803.2,1722.9 805.1,1719.6 806.9,1719.2 808.8,1722.1 810.6,1718.8 812.5,1716.0 814.3,1722.3 816.2,1724.9 818.1,1723.8 819.9,1721.3 821.8,1725.3 823.6,1729.7 825.5,1733.5 827.3,1729.1 829.2,1720.1 831.0,1717.2 832.9,1716.5 834.7,1720.0 836.6,1721.1 838.4,1722.3 840.3,1719.6 842.2,1717.7 844.0,1716.8 845.9,1719.3 847.7,1720.8 849.6,1721.9 851.4,1720.9 853.3,1719.3 855.1,1720.6 857.0,1720.8 858.8,1719.5 860.7,1720.4 862.5,1724.4 864.4,1726.5 866.3,1725.8 868.1,1728.1 870.0,1729.0 871.8,1722.5 873.7,1720.3 875.5,1721.7 877.4,1720.2 879.2,1719.7 881.1,1724.0 882.9,1728.2 884.8,1724.2 886.6,1719.7 888.5,1716.0 890.3,1716.0 892.2,1718.5 894.1,1725.9 895.9,1728.1 897.8,1723.8 899.6,1720.4 901.5,1720.3 903.3,1722.3 905.2,1725.5 907.0,1724.1 908.9,1723.3 910.7,1722.6 912.6,1722.5 914.4,1721.8 916.3,1721.2 918.2,1723.3 920.0,1721.4 921.9,1719.7 923.7,1721.0 925.6,1723.5 927.4,1722.5 929.3,1718.0 931.1,1720.0 933.0,1720.5 934.8,1720.9 936.7,1723.5 938.5,1724.8 940.4,1722.3 942.3,1721.3 944.1,1722.8 946.0,1724.8 947.8,1724.7 949.7,1720.8 951.5,1721.8 953.4,1726.3 955.2,1725.5 957.1,1722.9 958.9,1722.4 960.8,1722.5 962.6,1721.1 964.5,1717.8 966.3,1719.3 968.2,1720.6 970.1,1722.0 971.9,1723.3 973.8,1722.1 975.6,1723.2 977.5,1724.6 979.3,1724.2 981.2,1722.0 983.0,1721.1 984.9,1723.4 986.7,1721.8 988.6,1718.6 990.4,1716.5 992.3,1717.7 994.2,1719.7 996.0,1722.4 997.9,1724.0 999.7,1722.8 1001.6,1721.4 1003.4,1721.9 1005.3,1726.7 1007.1,1726.2 1009.0,1725.4 1010.8,1725.0 1012.7,1726.4 1014.5,1726.4 1016.4,1723.2 1018.3,1724.4 1020.1,1724.2 1022.0,1720.6 1023.8,1718.1 1025.7,1721.5 1027.5,1721.0 1029.4,1722.4 1031.2,1724.0 1033.1,1725.6 1034.9,1725.0 1036.8,1720.2 1038.6,1720.4 1040.5,1723.0 1042.3,1725.3 1044.2,1726.7 1046.1,1724.2 1047.9,1722.6 1049.8,1726.1 1051.6,1726.1 1053.5,1721.4 1055.3,1718.3 1057.2,1718.7 1059.0,1723.1 1060.9,1723.4 1062.7,1722.4 1064.6,1722.7 1066.4,1722.7 1068.3,1718.8 1070.2,1717.0 1072.0,1720.0 1073.9,1722.1 1075.7,1723.7 1077.6,1725.8 1079.4,1725.9 1081.3,1722.7 1083.1,1717.5 1085.0,1718.1 1086.8,1721.5 1088.7,1726.4 1090.5,1727.9 1092.4,1721.5 1094.3,1718.6 1096.1,1721.9 1098.0,1721.2 1099.8,1721.8 1101.7,1724.0 1103.5,1720.1 1105.4,1718.0 1107.2,1721.1 1109.1,1720.7 1110.9,1722.4 1112.8,1724.9 1114.6,1722.7 1116.5,1721.9 1118.4,1723.2 1120.2,1722.0 1122.1,1724.3 1123.9,1728.0 1125.8,1727.9 1127.6,1724.7 1129.5,1724.1 1131.3,1723.0 1133.2,1721.9 1135.0,1721.3 1136.9,1722.5 1138.7,1723.2 1140.6,1722.1 1142.4,1720.5 1144.3,1720.6 1146.2,1724.4 1148.0,1724.8 1149.9,1720.1 1151.7,1719.6 1153.6,1722.4 1155.4,1723.6 1157.3,1726.0 1159.1,1727.0 1161.0,1725.5 1162.8,1722.0 1164.7,1723.2 1166.5,1723.2 1168.4,1721.5 1170.3,1719.8 1172.1,1719.7 1174.0,1720.2 1175.8,1722.1 1177.7,1722.5 1179.5,1720.8 1181.4,1721.6 1183.2,1721.7 1185.1,1723.6 1186.9,1721.8 1188.8,1722.8 1190.6,1725.9 1192.5,1725.1 1194.4,1720.8 1196.2,1718.1 1198.1,1717.5 1199.9,1721.3 1201.8,1727.1 1203.6,1726.8 1205.5,1726.0 1207.3,1723.3 1209.2,1721.2 1211.0,1719.9 1212.9,1722.0 1214.7,1721.5 1216.6,1725.0 1218.4,1726.6 1220.3,1724.7 1222.2,1721.5 1224.0,1719.7 1225.9,1718.6 1227.7,1721.0 1229.6,1725.7 1231.4,1726.6 1233.3,1724.6 1235.1,1725.8 1237.0,1724.0 1238.8,1719.4 1240.7,1717.6 1242.5,1717.8 1244.4,1717.5 1246.3,1715.5 1248.1,1717.5 1250.0,1719.4 1251.8,1721.3 1253.7,1719.5 1255.5,1722.8 1257.4,1724.6 1259.2,1723.1 1261.1,1721.1 1262.9,1720.6 1264.8,1721.4 1266.6,1721.7 1268.5,1726.9 1270.4,1726.6 1272.2,1724.5 1274.1,1726.6 1275.9,1729.0 1277.8,1728.2 1279.6,1726.2 1281.5,1726.0 1283.3,1724.9 1285.2,1721.8 1287.0,1718.4 1288.9,1719.2 1290.7,1719.1 1292.6,1721.4 1294.4,1725.5 1296.3,1725.2 1298.2,1724.4 1300.0,1723.0 1301.9,1722.4 1303.7,1720.2 1305.6,1722.6 1307.4,1725.4 1309.3,1721.8 1311.1,1719.3 1313.0,1721.9 1314.8,1722.8 1316.7,1725.4 1318.5,1727.1 1320.4,1725.2 1322.3,1724.4 1324.1,1728.4 1326.0,1729.0 1327.8,1721.9 1329.7,1717.1 1331.5,1719.8 1333.4,1721.1 1335.2,1722.2 1337.1,1722.0 1338.9,1719.2 1340.8,1720.0 1342.6,1723.0 1344.5,1722.1 1346.4,1722.7 1348.2,1723.3 1350.1,1717.7 1351.9,1716.8 1353.8,1720.5 1355.6,1720.1 1357.5,1720.2 1359.3,1720.3 1361.2,1717.9 1363.0,1719.8 1364.9,1719.7 1366.7,1716.3 1368.6,1716.0 1370.5,1720.4 1372.3,1726.3 1374.2,1726.9 1376.0,1722.5 1377.9,1723.6 1379.7,1724.6 1381.6,1725.2 1383.4,1726.0 1385.3,1724.9 1387.1,1721.8 1389.0,1723.0 1390.8,1724.3 1392.7,1721.9 1394.5,1721.3 1396.4,1724.1 1398.3,1724.1 1400.1,1722.8 1402.0,1720.9 1403.8,1721.5 1405.7,1723.2 1407.5,1723.7 1409.4,1722.6 1411.2,1722.4 1413.1,1721.9 1414.9,1724.3 1416.8,1723.0 1418.6,1719.2 1420.5,1716.4" fill="none" stroke="#ff0000" stroke-width="7.4" stroke-linejoin="round" stroke-linecap="butt" clip-path="url(#c2)"/>
<polyline points="236.0,1166.0 237.9,1171.0 239.7,1173.1 241.6,1175.1 243.4,1172.2 245.3,1171.5 247.1,1173.8 249.0,1173.7 250.8,1172.7 252.7,1173.0 254.5,1172.1 256.4,1173.5 258.2,1175.3 260.1,1172.0 262.0,1173.3 263.8,1173.6 265.7,1169.1 267.5,1167.8 269.4,1171.3 271.2,1168.6 273.1,1166.6 274.9,1167.1 276.8,1169.4 278.6,1167.4 280.5,1167.4 282.3,1171.4 284.2,1174.5 286.0,1171.2 287.9,1170.8 289.8,1173.2 291.6,1174.6 293.5,1172.7 295.3,1175.5 297.2,1175.2 299.0,1171.7 300.9,1171.4 302.7,1173.5 304.6,1174.7 306.4,1173.4 308.3,1170.0 310.1,1168.1 312.0,1167.5 313.9,1168.3 315.7,1171.6 317.6,1173.1 319.4,1173.2 321.3,1175.9 323.1,1177.3 325.0,1175.9 326.8,1175.1 328.7,1173.7 330.5,1172.4 332.4,1173.3 334.2,1172.5 336.1,1170.5 338.0,1170.9 339.8,1172.7 341.7,1173.9 343.5,1171.9 345.4,1172.1 347.2,1172.4 349.1,1171.5 350.9,1172.4 352.8,1173.3 354.6,1172.6 356.5,1175.6 358.3,1177.9 360.2,1179.5 362.1,1177.9 363.9,1176.5 365.8,1179.0 367.6,1177.0 369.5,1171.9 371.3,1172.6 373.2,1174.8 375.0,1172.0 376.9,1172.0 378.7,1172.8 380.6,1172.3 382.4,1174.6 384.3,1173.8 386.1,1170.6 388.0,1168.4 389.9,1169.0 391.7,1173.2 393.6,1179.0 395.4,1177.5 397.3,1169.1 399.1,1169.9 401.0,1175.3 402.8,1177.5 404.7,1174.2 406.5,1170.9 408.4,1172.7 410.2,1172.1 412.1,1170.9 414.0,1170.7 415.8,1172.5 417.7,1175.8 419.5,1177.2 421.4,1179.5 423.2,1175.7 425.1,1173.8 426.9,1175.0 428.8,1171.8 430.6,1170.6 432.5,1174.4 434.3,1177.7 436.2,1178.3 438.1,1173.7 439.9,1170.6 441.8,1169.7 443.6,1176.7 445.5,1179.0 447.3,1172.9 449.2,1170.7 451.0,1171.9 452.9,1170.1 454.7,1170.6 456.6,1172.2 458.4,1173.4 460.3,1176.0 462.1,1174.4 464.0,1173.8 465.9,1173.2 467.7,1170.2 469.6,1166.5 471.4,1167.1 473.3,1171.5 475.1,1171.8 477.0,1173.2 478.8,1175.5 480.7,1176.5 482.5,1177.3 484.4,1175.4 486.2,1171.6 488.1,1171.1 490.0,1168.9 491.8,1168.5 493.7,1169.2 495.5,1170.3 497.4,1171.4 499.2,1171.8 501.1,1169.2 502.9,1168.0 504.8,1170.2 506.6,1173.8 508.5,1176.0 510.3,1175.0 512.2,1170.1 514.1,1172.2 515.9,1176.6 517.8,1179.0 519.6,1179.0 521.5,1179.0 523.3,1173.5 525.2,1173.3 527.0,1173.7 528.9,1175.1 530.7,1174.0 532.6,1173.2 534.4,1171.0 536.3,1168.8 538.1,1169.7 540.0,1171.0 541.9,1171.5 543.7,1171.8 545.6,1174.7 547.4,1175.5 549.3,1175.2 551.1,1173.3 553.0,1171.2 554.8,1171.1 556.7,1172.1 558.5,1171.8 560.4,1172.8 562.2,1174.1 564.1,1172.6 566.0,1171.3 567.8,1171.9 569.7,1170.9 571.5,1169.7 573.4,1170.2 575.2,1170.7 577.1,1171.9 578.9,1170.7 580.8,1168.6 582.6,1171.0 584.5,1174.9 586.3,1174.1 588.2,1169.9 590.1,1169.8 591.9,1171.9 593.8,1173.1 595.6,1171.7 597.5,1173.0 599.3,1173.5 601.2,1170.2 603.0,1172.9 604.9,1175.8 606.7,1174.5 608.6,1175.4 610.4,1175.1 612.3,1173.5 614.2,1173.3 616.0,1172.5 617.9,1172.2 619.7,1172.0 621.6,1172.2 623.4,1171.5 625.3,1169.0 627.1,1174.2 629.0,1178.4 630.8,1176.9 632.7,1173.7 634.5,1172.4 636.4,1170.7 638.2,1169.7 640.1,1167.7 642.0,1163.8 643.8,1166.2 645.7,1166.6 647.5,1165.3 649.4,1163.8 651.2,1164.8 653.1,1166.9 654.9,1173.4 656.8,1175.6 658.6,1174.2 660.5,1173.3 662.3,1169.5 664.2,1166.8 666.1,1168.9 667.9,1171.9 669.8,1170.5 671.6,1172.3 673.5,1171.5 675.3,1167.9 677.2,1166.7 679.0,1169.8 680.9,1170.8 682.7,1171.9 684.6,1176.4 686.4,1176.1 688.3,1172.7 690.2,1173.9 692.0,1175.7 693.9,1176.6 695.7,1175.9 697.6,1172.5 699.4,1177.0 701.3,1178.6 703.1,1176.1 705.0,1172.5 706.8,1175.6 708.7,1176.4 710.5,1173.7 712.4,1173.2 714.2,1173.0 716.1,1171.9 718.0,1171.9 719.8,1171.6 721.7,1171.1 723.5,1173.7 725.4,1173.9 727.2,1170.2 729.1,1172.3 730.9,1169.0 732.8,1166.7 734.6,1168.4 736.5,1173.0 738.3,1174.1 740.2,1172.5 742.1,1172.7 743.9,1173.4 745.8,1174.2 747.6,1174.4 749.5,1173.5 751.3,1173.5 753.2,1172.7 755.0,1169.4 756.9,1170.9 758.7,1176.0 760.6,1175.2 762.4,1173.0 764.3,1171.9 766.2,1172.1 768.0,1171.7 769.9,1170.8 771.7,1170.9 773.6,1170.7 775.4,1172.9 777.3,1171.7 779.1,1168.2 781.0,1170.1 782.8,1172.1 784.7,1171.4 786.5,1169.8 788.4,1176.2 790.2,1179.0 792.1,1173.8 794.0,1171.4 795.8,1172.6 797.7,1171.2 799.5,1167.7 801.4,1168.6 803.2,1172.1 805.1,1175.3 806.9,1175.8 808.8,1172.9 810.6,1176.2 812.5,1178.9 814.3,1172.7 816.2,1170.0 818.1,1171.2 819.9,1173.6 821.8,1169.7 823.6,1165.3 825.5,1161.5 827.3,1165.9 829.2,1174.9 831.0,1177.8 832.9,1178.5 834.7,1175.0 836.6,1173.9 838.4,1172.7 840.3,1175.4 842.2,1177.3 844.0,1178.1 845.9,1175.7 847.7,1174.2 849.6,1173.1 851.4,1174.1 853.3,1175.7 855.1,1174.4 857.0,1174.2 858.8,1175.5 860.7,1174.6 862.5,1170.6 864.4,1168.5 866.3,1169.2 868.1,1166.9 870.0,1166.0 871.8,1172.5 873.7,1174.7 875.5,1173.3 877.4,1174.8 879.2,1175.3 881.1,1171.0 882.9,1166.8 884.8,1170.8 886.6,1175.3 888.5,1179.0 890.3,1179.0 892.2,1176.5 894.1,1169.1 895.9,1166.9 897.8,1171.2 899.6,1174.6 901.5,1174.7 903.3,1172.7 905.2,1169.5 907.0,1170.9 908.9,1171.7 910.7,1172.4 912.6,1172.5 914.4,1173.2 916.3,1173.8 918.2,1171.7 920.0,1173.6 921.9,1175.3 923.7,1174.0 925.6,1171.5 927.4,1172.5 929.3,1177.0 931.1,1175.0 933.0,1174.5 934.8,1174.1 936.7,1171.5 938.5,1170.2 940.4,1172.7 942.3,1173.7 944.1,1172.2 946.0,1170.2 947.8,1170.3 949.7,1174.2 951.5,1173.2 953.4,1168.7 955.2,1169.5 957.1,1172.1 958.9,1172.6 960.8,1172.5 962.6,1173.9 964.5,1177.2 966.3,1175.7 968.2,1174.4 970.1,1173.0 971.9,1171.7 973.8,1172.9 975.6,1171.8 977.5,1170.4 979.3,1170.8 981.2,1173.0 983.0,1173.9 984.9,1171.6 986.7,1173.2 988.6,1176.4 990.4,1178.5 992.3,1177.3 994.2,1175.3 996.0,1172.6 997.9,1171.0 999.7,1172.2 1001.6,1173.6 1003.4,1173.1 1005.3,1168.3 1007.1,1168.8 1009.0,1169.6 1010.8,1170.0 1012.7,1168.6 1014.5,1168.6 1016.4,1171.8 1018.3,1170.6 1020.1,1170.8 1022.0,1174.4 1023.8,1176.9 1025.7,1173.5 1027.5,1174.0 1029.4,1172.6 1031.2,1171.0 1033.1,1169.4 1034.9,1170.0 1036.8,1174.8 1038.6,1174.6 1040.5,1172.0 1042.3,1169.7 1044.2,1168.3 1046.1,1170.8 1047.9,1172.4 1049.8,1168.9 1051.6,1168.9 1053.5,1173.6 1055.3,1176.7 1057.2,1176.3 1059.0,1171.9 1060.9,1171.6 1062.7,1172.6 1064.6,1172.3 1066.4,1172.3 1068.3,1176.2 1070.2,1178.0 1072.0,1175.0 1073.9,1172.9 1075.7,1171.3 1077.6,1169.2 1079.4,1169.1 1081.3,1172.3 1083.1,1177.5 1085.0,1176.9 1086.8,1173.5 1088.7,1168.6 1090.5,1167.1 1092.4,1173.5 1094.3,1176.4 1096.1,1173.1 1098.0,1173.8 1099.8,1173.2 1101.7,1171.0 1103.5,1174.9 1105.4,1177.0 1107.2,1173.9 1109.1,1174.3 1110.9,1172.6 1112.8,1170.1 1114.6,1172.3 1116.5,1173.1 1118.4,1171.8 1120.2,1173.0 1122.1,1170.7 1123.9,1167.0 1125.8,1167.1 1127.6,1170.3 1129.5,1170.9 1131.3,1172.0 1133.2,1173.1 1135.0,1173.7 1136.9,1172.5 1138.7,1171.8 1140.6,1172.9 1142.4,1174.5 1144.3,1174.4 1146.2,1170.6 1148.0,1170.2 1149.9,1174.9 1151.7,1175.4 1153.6,1172.6 1155.4,1171.4 1157.3,1169.0 1159.1,1168.0 1161.0,1169.5 1162.8,1173.0 1164.7,1171.8 1166.5,1171.8 1168.4,1173.5 1170.3,1175.2 1172.1,1175.3 1174.0,1174.8 1175.8,1172.9 1177.7,1172.5 1179.5,1174.2 1181.4,1173.4 1183.2,1173.3 1185.1,1171.4 1186.9,1173.2 1188.8,1172.2 1190.6,1169.1 1192.5,1169.9 1194.4,1174.2 1196.2,1176.9 1198.1,1177.5 1199.9,1173.7 1201.8,1167.9 1203.6,1168.2 1205.5,1169.0 1207.3,1171.7 1209.2,1173.8 1211.0,1175.1 1212.9,1173.0 1214.7,1173.5 1216.6,1170.0 1218.4,1168.4 1220.3,1170.3 1222.2,1173.5 1224.0,1175.3 1225.9,1176.4 1227.7,1174.0 1229.6,1169.3 1231.4,1168.4 1233.3,1170.4 1235.1,1169.2 1237.0,1171.0 1238.8,1175.6 1240.7,1177.4 1242.5,1177.2 1244.4,1177.5 1246.3,1179.5 1248.1,1177.5 1250.0,1175.6 1251.8,1173.7 1253.7,1175.5 1255.5,1172.2 1257.4,1170.4 1259.2,1171.9 1261.1,1173.9 1262.9,1174.4 1264.8,1173.6 1266.6,1173.3 1268.5,1168.1 1270.4,1168.4 1272.2,1170.5 1274.1,1168.4 1275.9,1166.0 1277.8,1166.8 1279.6,1168.8 1281.5,1169.0 1283.3,1170.1 1285.2,1173.2 1287.0,1176.6 1288.9,1175.8 1290.7,1175.9 1292.6,1173.6 1294.4,1169.5 1296.3,1169.8 1298.2,1170.6 1300.0,1172.0 1301.9,1172.6 1303.7,1174.8 1305.6,1172.4 1307.4,1169.6 1309.3,1173.2 1311.1,1175.7 1313.0,1173.1 1314.8,1172.2 1316.7,1169.6 1318.5,1167.9 1320.4,1169.8 1322.3,1170.6 1324.1,1166.6 1326.0,1166.0 1327.8,1173.1 1329.7,1177.9 1331.5,1175.2 1333.4,1173.9 1335.2,1172.8 1337.1,1173.0 1338.9,1175.8 1340.8,1175.0 1342.6,1172.0 1344.5,1172.9 1346.4,1172.3 1348.2,1171.7 1350.1,1177.3 1351.9,1178.2 1353.8,1174.5 1355.6,1174.9 1357.5,1174.8 1359.3,1174.7 1361.2,1177.1 1363.0,1175.2 1364.9,1175.3 1366.7,1178.7 1368.6,1179.0 1370.5,1174.6 1372.3,1168.7 1374.2,1168.1 1376.0,1172.5 1377.9,1171.4 1379.7,1170.4 1381.6,1169.8 1383.4,1169.0 1385.3,1170.1 1387.1,1173.2 1389.0,1172.0 1390.8,1170.7 1392.7,1173.1 1394.5,1173.7 1396.4,1170.9 1398.3,1170.9 1400.1,1172.2 1402.0,1174.1 1403.8,1173.5 1405.7,1171.8 1407.5,1171.3 1409.4,1172.4 1411.2,1172.6 1413.1,1173.1 1414.9,1170.7 1416.8,1172.0 1418.6,1175.8 1420.5,1178.6" fill="none" stroke="#993300" stroke-width="7.4" stroke-linejoin="round" stroke-linecap="butt" clip-path="url(#c2)"/>
<polyline points="236.0,1169.0 237.9,1166.0 239.7,1163.9 241.6,1161.9 243.4,1164.8 245.3,1165.5 247.1,1163.2 249.0,1163.3 250.8,1164.3 252.7,1164.0 254.5,1164.9 256.4,1163.5 258.2,1161.7 260.1,1165.0 262.0,1163.7 263.8,1163.4 265.7,1167.9 267.5,1169.2 269.4,1165.7 271.2,1168.4 273.1,1170.4 274.9,1169.9 276.8,1167.6 278.6,1169.6 280.5,1169.6 282.3,1165.6 284.2,1162.5 286.0,1165.8 287.9,1166.2 289.8,1163.8 291.6,1162.4 293.5,1164.3 295.3,1161.5 297.2,1161.8 299.0,1165.3 300.9,1165.6 302.7,1163.5 304.6,1162.3 306.4,1163.6 308.3,1167.0 310.1,1168.9 312.0,1169.5 313.9,1168.7 315.7,1165.4 317.6,1163.9 319.4,1163.8 321.3,1161.1 323.1,1159.7 325.0,1161.1 326.8,1161.9 328.7,1163.3 330.5,1164.6 332.4,1163.7 334.2,1164.5 336.1,1166.5 338.0,1166.1 339.8,1164.3 341.7,1163.1 343.5,1165.1 345.4,1164.9 347.2,1164.6 349.1,1165.5 350.9,1164.6 352.8,1163.7 354.6,1164.4 356.5,1161.4 358.3,1159.1 360.2,1157.5 362.1,1159.1 363.9,1160.5 365.8,1158.0 367.6,1160.0 369.5,1165.1 371.3,1164.4 373.2,1162.2 375.0,1165.0 376.9,1165.0 378.7,1164.2 380.6,1164.7 382.4,1162.4 384.3,1163.2 386.1,1166.4 388.0,1168.6 389.9,1168.0 391.7,1163.8 393.6,1158.0 395.4,1159.5 397.3,1167.9 399.1,1167.1 401.0,1161.7 402.8,1159.5 404.7,1162.8 406.5,1166.1 408.4,1164.3 410.2,1164.9 412.1,1166.1 414.0,1166.3 415.8,1164.5 417.7,1161.2 419.5,1159.8 421.4,1157.5 423.2,1161.3 425.1,1163.2 426.9,1162.0 428.8,1165.2 430.6,1166.4 432.5,1162.6 434.3,1159.3 436.2,1158.7 438.1,1163.3 439.9,1166.4 441.8,1167.3 443.6,1160.3 445.5,1158.0 447.3,1164.1 449.2,1166.3 451.0,1165.1 452.9,1166.9 454.7,1166.4 456.6,1164.8 458.4,1163.6 460.3,1161.0 462.1,1162.6 464.0,1163.2 465.9,1163.8 467.7,1166.8 469.6,1170.5 471.4,1169.9 473.3,1165.5 475.1,1165.2 477.0,1163.8 478.8,1161.5 480.7,1160.5 482.5,1159.7 484.4,1161.6 486.2,1165.4 488.1,1165.9 490.0,1168.1 491.8,1168.5 493.7,1167.8 495.5,1166.7 497.4,1165.6 499.2,1165.2 501.1,1167.8 502.9,1169.0 504.8,1166.8 506.6,1163.2 508.5,1161.0 510.3,1162.0 512.2,1166.9 514.1,1164.8 515.9,1160.4 517.8,1158.0 519.6,1158.0 521.5,1158.0 523.3,1163.5 525.2,1163.7 527.0,1163.3 528.9,1161.9 530.7,1163.0 532.6,1163.8 534.4,1166.0 536.3,1168.2 538.1,1167.3 540.0,1166.0 541.9,1165.5 543.7,1165.2 545.6,1162.3 547.4,1161.5 549.3,1161.8 551.1,1163.7 553.0,1165.8 554.8,1165.9 556.7,1164.9 558.5,1165.2 560.4,1164.2 562.2,1162.9 564.1,1164.4 566.0,1165.7 567.8,1165.1 569.7,1166.1 571.5,1167.3 573.4,1166.8 575.2,1166.3 577.1,1165.1 578.9,1166.3 580.8,1168.4 582.6,1166.0 584.5,1162.1 586.3,1162.9 588.2,1167.1 590.1,1167.2 591.9,1165.1 593.8,1163.9 595.6,1165.3 597.5,1164.0 599.3,1163.5 601.2,1166.8 603.0,1164.1 604.9,1161.2 606.7,1162.5 608.6,1161.6 610.4,1161.9 612.3,1163.5 614.2,1163.7 616.0,1164.5 617.9,1164.8 619.7,1165.0 621.6,1164.8 623.4,1165.5 625.3,1168.0 627.1,1162.8 629.0,1158.6 630.8,1160.1 632.7,1163.3 634.5,1165.5 636.4,1168.0 638.2,1169.8 640.1,1172.5 642.0,1177.1 643.8,1174.5 645.7,1173.9 647.5,1174.9 649.4,1176.3 651.2,1175.1 653.1,1172.8 654.9,1166.2 656.8,1163.8 658.6,1165.1 660.5,1165.9 662.3,1169.5 664.2,1172.0 666.1,1169.8 667.9,1166.7 669.8,1168.0 671.6,1166.1 673.5,1166.9 675.3,1170.4 677.2,1171.5 679.0,1168.4 680.9,1167.3 682.7,1166.1 684.6,1161.5 686.4,1161.8 688.3,1165.2 690.2,1163.8 692.0,1162.1 693.9,1161.1 695.7,1161.7 697.6,1165.1 699.4,1160.6 701.3,1159.0 703.1,1161.4 705.0,1165.0 706.8,1161.9 708.7,1161.1 710.5,1163.7 712.4,1164.2 714.2,1164.3 716.1,1165.4 718.0,1165.4 719.8,1165.7 721.7,1166.2 723.5,1163.6 725.4,1163.4 727.2,1167.0 729.1,1164.9 730.9,1168.2 732.8,1170.5 734.6,1168.8 736.5,1164.2 738.3,1163.1 740.2,1164.6 742.1,1164.4 743.9,1163.8 745.8,1162.9 747.6,1162.7 749.5,1163.7 751.3,1163.6 753.2,1164.4 755.0,1167.7 756.9,1166.2 758.7,1161.0 760.6,1161.9 762.4,1164.1 764.3,1165.2 766.2,1165.0 768.0,1165.4 769.9,1166.2 771.7,1166.1 773.6,1166.4 775.4,1164.1 777.3,1165.4 779.1,1168.8 781.0,1167.0 782.8,1164.9 784.7,1165.6 786.5,1167.2 788.4,1160.9 790.2,1158.0 792.1,1163.3 794.0,1165.6 795.8,1164.4 797.7,1165.9 799.5,1169.3 801.4,1168.4 803.2,1164.9 805.1,1161.7 806.9,1161.3 808.8,1164.1 810.6,1160.8 812.5,1158.1 814.3,1164.3 816.2,1167.0 818.1,1165.8 819.9,1163.4 821.8,1167.3 823.6,1171.7 825.5,1175.5 827.3,1171.1 829.2,1162.1 831.0,1159.2 832.9,1158.5 834.7,1162.0 836.6,1163.1 838.4,1164.3 840.3,1161.6 842.2,1159.7 844.0,1158.9 845.9,1161.3 847.7,1162.8 849.6,1163.9 851.4,1162.9 853.3,1161.3 855.1,1162.6 857.0,1162.8 858.8,1161.5 860.7,1162.4 862.5,1166.4 864.4,1168.5 866.3,1167.8 868.1,1170.1 870.0,1171.0 871.8,1164.6 873.7,1162.3 875.5,1163.7 877.4,1162.2 879.2,1161.7 881.1,1166.0 882.9,1170.2 884.8,1166.2 886.6,1161.7 888.5,1158.0 890.3,1158.0 892.2,1160.5 894.1,1167.9 895.9,1170.1 897.8,1165.8 899.6,1162.4 901.5,1162.3 903.3,1164.3 905.2,1167.5 907.0,1166.1 908.9,1165.3 910.7,1164.6 912.6,1164.5 914.4,1163.8 916.3,1163.2 918.2,1165.3 920.0,1163.4 921.9,1161.7 923.7,1163.0 925.6,1165.5 927.4,1164.5 929.3,1160.0 931.1,1162.0 933.0,1162.5 934.8,1162.9 936.7,1165.5 938.5,1166.8 940.4,1164.3 942.3,1163.3 944.1,1164.8 946.0,1166.8 947.8,1166.7 949.7,1162.8 951.5,1163.8 953.4,1168.3 955.2,1167.5 957.1,1164.9 958.9,1164.4 960.8,1164.5 962.6,1163.1 964.5,1159.8 966.3,1161.3 968.2,1162.6 970.1,1164.0 971.9,1165.3 973.8,1164.1 975.6,1165.2 977.5,1166.6 979.3,1166.2 981.2,1164.0 983.0,1163.1 984.9,1165.4 986.7,1163.8 988.6,1160.6 990.4,1158.5 992.3,1159.7 994.2,1161.7 996.0,1164.4 997.9,1166.0 999.7,1164.8 1001.6,1163.4 1003.4,1163.9 1005.3,1168.7 1007.1,1168.2 1009.0,1167.4 1010.8,1167.0 1012.7,1168.4 1014.5,1168.4 1016.4,1165.2 1018.3,1166.4 1020.1,1166.2 1022.0,1162.6 1023.8,1160.1 1025.7,1163.5 1027.5,1163.0 1029.4,1164.4 1031.2,1166.0 1033.1,1167.6 1034.9,1167.0 1036.8,1162.2 1038.6,1162.4 1040.5,1165.0 1042.3,1167.3 1044.2,1168.7 1046.1,1166.2 1047.9,1164.6 1049.8,1168.1 1051.6,1168.1 1053.5,1163.4 1055.3,1160.3 1057.2,1160.7 1059.0,1165.1 1060.9,1165.4 1062.7,1164.4 1064.6,1164.7 1066.4,1164.7 1068.3,1160.8 1070.2,1159.0 1072.0,1162.0 1073.9,1164.1 1075.7,1165.7 1077.6,1167.8 1079.4,1167.9 1081.3,1164.7 1083.1,1159.5 1085.0,1160.1 1086.8,1163.5 1088.7,1168.4 1090.5,1169.9 1092.4,1163.5 1094.3,1160.6 1096.1,1163.9 1098.0,1163.2 1099.8,1163.8 1101.7,1166.0 1103.5,1162.1 1105.4,1160.0 1107.2,1163.1 1109.1,1162.7 1110.9,1164.4 1112.8,1166.9 1114.6,1164.7 1116.5,1163.9 1118.4,1165.2 1120.2,1164.0 1122.1,1166.3 1123.9,1170.0 1125.8,1169.9 1127.6,1166.7 1129.5,1166.1 1131.3,1165.0 1133.2,1163.9 1135.0,1163.3 1136.9,1164.5 1138.7,1165.2 1140.6,1164.1 1142.4,1162.5 1144.3,1162.6 1146.2,1166.4 1148.0,1166.8 1149.9,1162.1 1151.7,1161.6 1153.6,1164.4 1155.4,1165.6 1157.3,1168.0 1159.1,1169.0 1161.0,1167.5 1162.8,1164.0 1164.7,1165.2 1166.5,1165.2 1168.4,1163.5 1170.3,1161.8 1172.1,1161.7 1174.0,1162.2 1175.8,1164.1 1177.7,1164.5 1179.5,1162.8 1181.4,1163.6 1183.2,1163.7 1185.1,1165.6 1186.9,1163.8 1188.8,1164.8 1190.6,1167.9 1192.5,1167.1 1194.4,1162.8 1196.2,1160.1 1198.1,1159.5 1199.9,1163.3 1201.8,1169.1 1203.6,1168.8 1205.5,1168.0 1207.3,1165.3 1209.2,1163.2 1211.0,1161.9 1212.9,1164.0 1214.7,1163.5 1216.6,1167.0 1218.4,1168.6 1220.3,1166.7 1222.2,1163.5 1224.0,1161.7 1225.9,1160.6 1227.7,1163.0 1229.6,1167.7 1231.4,1168.6 1233.3,1166.6 1235.1,1167.8 1237.0,1166.0 1238.8,1161.4 1240.7,1159.6 1242.5,1159.8 1244.4,1159.5 1246.3,1157.5 1248.1,1159.5 1250.0,1161.4 1251.8,1163.3 1253.7,1161.5 1255.5,1164.8 1257.4,1166.6 1259.2,1165.1 1261.1,1163.1 1262.9,1162.6 1264.8,1163.4 1266.6,1163.7 1268.5,1168.9 1270.4,1168.6 1272.2,1166.5 1274.1,1168.6 1275.9,1171.0 1277.8,1170.2 1279.6,1168.2 1281.5,1168.0 1283.3,1166.9 1285.2,1163.8 1287.0,1160.4 1288.9,1161.2 1290.7,1161.1 1292.6,1163.4 1294.4,1167.5 1296.3,1167.2 1298.2,1166.4 1300.0,1165.0 1301.9,1164.4 1303.7,1162.2 1305.6,1164.6 1307.4,1167.4 1309.3,1163.8 1311.1,1161.3 1313.0,1163.9 1314.8,1164.8 1316.7,1167.4 1318.5,1169.1 1320.4,1167.2 1322.3,1166.4 1324.1,1170.4 1326.0,1171.0 1327.8,1163.9 1329.7,1159.1 1331.5,1161.8 1333.4,1163.1 1335.2,1164.2 1337.1,1164.0 1338.9,1161.2 1340.8,1162.0 1342.6,1165.0 1344.5,1164.1 1346.4,1164.7 1348.2,1165.3 1350.1,1159.7 1351.9,1158.8 1353.8,1162.5 1355.6,1162.1 1357.5,1162.2 1359.3,1162.3 1361.2,1159.9 1363.0,1161.8 1364.9,1161.7 1366.7,1158.3 1368.6,1158.0 1370.5,1162.4 1372.3,1168.3 1374.2,1168.9 1376.0,1164.5 1377.9,1165.6 1379.7,1166.6 1381.6,1167.2 1383.4,1168.0 1385.3,1166.9 1387.1,1163.8 1389.0,1165.0 1390.8,1166.3 1392.7,1163.9 1394.5,1163.3 1396.4,1166.1 1398.3,1166.1 1400.1,1164.8 1402.0,1162.9 1403.8,1163.5 1405.7,1165.2 1407.5,1165.7 1409.4,1164.6 1411.2,1164.4 1413.1,1163.9 1414.9,1166.3 1416.8,1165.0 1418.6,1161.2 1420.5,1158.4" fill="none" stroke="#ff00ff" stroke-width="7.4" stroke-linejoin="round" stroke-linecap="butt" clip-path="url(#c2)"/>
<text transform="translate(197.60,1756.23) scale(1.1400,1.0600)" font-size="79.4" text-anchor="end" fill="#262626">0</text>
<text transform="translate(197.60,1566.75) scale(1.1400,1.0600)" font-size="79.4" text-anchor="end" fill="#262626">2</text>
<text transform="translate(197.60,1377.27) scale(1.1400,1.0600)" font-size="79.4" text-anchor="end" fill="#262626">4</text>
<text transform="translate(197.60,1187.79) scale(1.1400,1.0600)" font-size="79.4" text-anchor="end" fill="#262626">6</text>
<text transform="translate(235.00,1939.10) scale(1.1400,1.0816)" font-size="79.4" text-anchor="middle" fill="#262626">0</text>
<g transform="translate(579.49,1939.10) scale(1.1400,1.0816)">
<text font-size="79.4" fill="#262626"><tspan dx="3.37">1</tspan><tspan dx="-3.37">0</tspan></text>
<rect x="7.87" y="-8.26" width="15.47" height="9.81" fill="#fff"/>
<rect x="30.36" y="-8.26" width="15.24" height="9.81" fill="#fff"/>
</g>
<text transform="translate(1024.67,1939.10) scale(1.1400,1.0816)" font-size="79.4" text-anchor="middle" fill="#262626">20</text>
<text transform="translate(1419.50,1939.10) scale(1.1400,1.0816)" font-size="79.4" text-anchor="middle" fill="#262626">30</text>
<text transform="translate(828.60,2059.30) scale(1.1270,1.0400)" font-size="84.6" text-anchor="middle" fill="#262626">Time (s)</text>
<text transform="translate(101.20,1440.50) rotate(-90) scale(1.0470,1.1343)" font-size="84.6" text-anchor="middle" fill="#262626">Current (A)</text>
<rect x="1449.00" y="1065.90" width="363.00" height="653.00" fill="#ffffff"/>
<rect x="1449.00" y="1065.90" width="363.00" height="5.80" fill="#262626"/>
<rect x="1449.00" y="1713.00" width="363.00" height="5.90" fill="#262626"/>
<rect x="1449.00" y="1065.90" width="5.00" height="653.00" fill="#262626"/>
<rect x="1807.00" y="1065.90" width="5.00" height="653.00" fill="#262626"/>
<rect x="1477.00" y="1161.95" width="198.10" height="5.00" fill="#0000ff"/>
<rect x="1477.00" y="1316.90" width="198.10" height="6.10" fill="#ff0000"/>
<rect x="1477.00" y="1473.00" width="198.10" height="6.00" fill="#993300"/>
<rect x="1477.00" y="1628.95" width="198.10" height="6.00" fill="#ff00ff"/>
<text transform="translate(1693.76,1190.20) scale(1.1400,1.0192)" font-size="70" text-anchor="start" fill="#000">i</text>
<text transform="translate(1714.52,1223.60) scale(1.1446,1.0400)" font-size="56.0" text-anchor="start" fill="#000">ds</text>
<text transform="translate(1714.39,1155.90) scale(1.1400,1.0400)" font-size="56.0" text-anchor="start" fill="#000">e</text>
<text transform="translate(1693.76,1335.90) scale(1.1400,1.0192)" font-size="70" text-anchor="start" fill="#000">i</text>
<text transform="translate(1714.52,1369.30) scale(1.1446,1.0400)" font-size="56.0" text-anchor="start" fill="#000">ds</text>
<text transform="translate(1693.76,1501.60) scale(1.1400,1.0192)" font-size="70" text-anchor="start" fill="#000">i</text>
<text transform="translate(1714.52,1535.00) scale(1.1446,1.0400)" font-size="56.0" text-anchor="start" fill="#000">qs</text>
<text transform="translate(1714.39,1467.30) scale(1.1400,1.0400)" font-size="56.0" text-anchor="start" fill="#000">e</text>
<text transform="translate(1693.76,1647.90) scale(1.1400,1.0192)" font-size="70" text-anchor="start" fill="#000">i</text>
<text transform="translate(1714.52,1681.30) scale(1.1446,1.0400)" font-size="56.0" text-anchor="start" fill="#000">qs</text>
</g>
<g id="plot3">
<clipPath id="c3"><rect x="473.05" y="2114.45" width="1148.0" height="756.9500000000003"/></clipPath>
<rect x="473.00" y="2111.90" width="1148.00" height="5.10" fill="#262626"/>
<rect x="473.00" y="2869.10" width="1148.00" height="4.60" fill="#262626"/>
<rect x="473.00" y="2111.90" width="5.10" height="761.80" fill="#262626"/>
<rect x="1616.10" y="2111.90" width="4.90" height="761.80" fill="#262626"/>
<rect x="854.07" y="2859.10" width="4.86" height="10.30" fill="#262626"/>
<rect x="854.07" y="2116.70" width="4.86" height="10.30" fill="#262626"/>
<rect x="1235.07" y="2859.10" width="4.86" height="10.30" fill="#262626"/>
<rect x="1235.07" y="2116.70" width="4.86" height="10.30" fill="#262626"/>
<rect x="477.80" y="2272.00" width="11.15" height="3.90" fill="#262626"/>
<rect x="1605.10" y="2272.00" width="11.30" height="3.90" fill="#262626"/>
<rect x="477.80" y="2670.70" width="11.15" height="3.90" fill="#262626"/>
<rect x="1605.10" y="2670.70" width="11.30" height="3.90" fill="#262626"/>
<polyline points="475.8,2679.7 475.8,2703.3 476.3,2708.2 476.3,2680.7 476.8,2676.0 476.8,2694.6 477.3,2700.7 477.3,2677.0 477.8,2680.4 477.8,2692.9 478.3,2703.6 478.3,2679.5 478.8,2672.6 478.8,2694.7 479.3,2700.5 479.3,2679.8 479.8,2683.6 479.8,2713.5 480.3,2702.1 480.3,2684.8 480.8,2674.9 480.8,2696.1 481.3,2696.3 481.3,2674.8 481.8,2674.2 481.8,2692.2 482.3,2698.8 482.3,2668.3 482.8,2679.2 482.8,2687.9 483.3,2704.9 483.3,2671.7 483.8,2678.5 483.8,2698.6 484.3,2706.8 484.3,2677.3 484.8,2684.8 484.8,2698.7 485.3,2708.1 485.3,2682.0 485.8,2676.8 485.8,2709.5 486.3,2703.9 486.3,2673.1 486.8,2681.1 486.8,2705.6 487.3,2700.0 487.3,2678.4 487.8,2666.0 487.8,2707.9 488.3,2706.9 488.3,2683.7 488.8,2680.0 488.8,2715.2 489.3,2708.4 489.3,2681.7 489.8,2671.0 489.8,2704.8 490.3,2703.1 490.3,2682.1 490.8,2692.0 490.8,2709.6 491.3,2720.5 491.3,2685.3 491.8,2671.4 491.8,2705.5 492.3,2704.6 492.3,2683.9 492.8,2688.0 492.8,2707.0 493.3,2700.2 493.3,2678.3 493.8,2690.2 493.8,2702.6 494.3,2706.1 494.3,2690.0 494.8,2676.2 494.8,2704.6 495.3,2709.9 495.3,2689.9 495.8,2670.8 495.8,2705.5 496.3,2701.5 496.3,2684.1 496.8,2678.8 496.8,2703.4 497.3,2704.6 497.3,2686.4 497.8,2679.4 497.8,2712.9 498.3,2711.7 498.3,2667.4 498.8,2680.1 498.8,2709.1 499.3,2699.8 499.3,2678.7 499.8,2689.7 499.8,2709.2 500.3,2688.4 500.3,2674.8 500.8,2681.5 500.8,2692.8 501.3,2695.4 501.3,2683.9 501.8,2664.1 501.8,2694.3 502.3,2703.2 502.3,2675.9 502.8,2681.0 502.8,2697.9 503.3,2705.1 503.3,2685.5 503.8,2679.0 503.8,2703.9 504.3,2705.5 504.3,2673.5 504.8,2684.8 504.8,2697.2 505.3,2702.1 505.3,2683.8 505.8,2672.3 505.8,2695.3 506.3,2701.4 506.3,2673.5 506.8,2682.0 506.8,2700.4 507.3,2707.9 507.3,2677.2 507.8,2677.6 507.8,2697.3 508.3,2706.0 508.3,2678.8 508.8,2684.5 508.8,2705.5 509.3,2703.0 509.3,2673.7 509.8,2680.4 509.8,2695.0 510.3,2702.5 510.3,2675.8 510.8,2674.7 510.8,2709.7 511.3,2698.1 511.3,2663.2 511.8,2682.5 511.8,2696.4 512.3,2706.9 512.3,2676.9 512.8,2673.6 512.8,2711.9 513.3,2703.3 513.3,2673.9 513.8,2680.8 513.8,2705.5 514.3,2697.9 514.3,2672.2 514.8,2673.5 514.8,2705.3 515.3,2704.9 515.3,2663.6 515.8,2655.3 515.8,2699.0 516.3,2686.9 516.3,2680.1 516.8,2662.6 516.8,2700.5 517.3,2691.1 517.3,2674.6 517.8,2676.5 517.8,2694.6 518.3,2704.7 518.3,2673.4 518.8,2674.9 518.8,2687.4 519.3,2710.0 519.3,2671.4 519.8,2666.1 519.8,2698.1 520.3,2707.0 520.3,2685.5 520.8,2674.3 520.8,2709.0 521.3,2718.8 521.3,2670.1 521.8,2674.6 521.8,2701.4 522.3,2707.1 522.3,2679.4 522.8,2677.9 522.8,2707.1 523.3,2706.1 523.3,2670.9 523.8,2683.2 523.8,2705.3 524.3,2701.8 524.3,2676.3 524.8,2670.7 524.8,2697.3 525.3,2697.8 525.3,2677.7 525.8,2681.5 525.8,2707.3 526.3,2694.2 526.3,2677.0 526.8,2678.0 526.8,2701.8 527.3,2707.3 527.3,2681.4 527.8,2681.0 527.8,2706.7 528.3,2711.1 528.3,2687.2 528.8,2681.0 528.8,2697.6 529.3,2709.0 529.3,2682.9 529.8,2671.8 529.8,2700.2 530.3,2701.4 530.3,2682.3 530.8,2664.6 530.8,2703.2 531.3,2695.7 531.3,2677.2 531.8,2676.1 531.8,2707.6 532.3,2704.3 532.3,2687.3 532.8,2681.1 532.8,2720.4 533.3,2703.8 533.3,2684.6 533.8,2689.2 533.8,2714.7 534.3,2700.5 534.3,2680.3 534.8,2681.8 534.8,2707.3 535.3,2700.5 535.3,2674.4 535.8,2674.3 535.8,2710.7 536.3,2698.6 536.3,2688.6 536.8,2677.1 536.8,2689.7 537.3,2715.7 537.3,2670.4 537.8,2686.8 537.8,2720.9 538.3,2701.7 538.3,2677.4 538.8,2680.5 538.8,2701.6 539.3,2701.9 539.3,2672.3 539.8,2679.6 539.8,2706.6 540.3,2704.7 540.3,2680.9 540.8,2669.3 540.8,2699.3 541.3,2705.2 541.3,2674.1 541.8,2661.7 541.8,2700.2 542.3,2701.2 542.3,2671.7 542.8,2683.8 542.8,2708.1 543.3,2695.4 543.3,2678.3 543.8,2671.2 543.8,2700.9 544.3,2701.1 544.3,2681.6 544.8,2680.8 544.8,2697.5 545.3,2702.4 545.3,2682.4 545.8,2663.9 545.8,2698.2 546.3,2700.6 546.3,2681.7 546.8,2672.5 546.8,2695.3 547.3,2707.4 547.3,2671.5 547.8,2675.8 547.8,2704.0 548.3,2706.3 548.3,2680.8 548.8,2686.0 548.8,2704.7 549.3,2703.6 549.3,2683.3 549.8,2685.2 549.8,2703.1 550.3,2706.5 550.3,2678.1 550.8,2673.8 550.8,2700.1 551.3,2700.4 551.3,2679.8 551.8,2688.3 551.8,2715.6 552.3,2716.2 552.3,2684.4 552.8,2683.1 552.8,2700.2 553.3,2707.4 553.3,2673.3 553.8,2687.2 553.8,2706.1 554.3,2688.0 554.3,2672.3 554.8,2678.5 554.8,2695.5 555.3,2700.4 555.3,2680.9 555.8,2672.2 555.8,2708.2 556.3,2704.9 556.3,2681.4 556.8,2677.3 556.8,2695.6 557.3,2701.5 557.3,2684.4 557.8,2672.1 557.8,2704.6 558.3,2701.5 558.3,2674.0 558.8,2672.2 558.8,2700.8 559.3,2690.6 559.3,2675.9 559.8,2679.3 559.8,2707.2 560.3,2707.4 560.3,2684.6 560.8,2690.0 560.8,2705.9 561.3,2702.5 561.3,2664.2 561.8,2687.1 561.8,2702.6 562.3,2709.3 562.3,2678.5 562.8,2675.6 562.8,2701.5 563.3,2691.1 563.3,2677.5 563.8,2680.8 563.8,2698.5 564.3,2702.2 564.3,2680.3 564.8,2674.5 564.8,2698.8 565.3,2693.0 565.3,2680.6 565.8,2676.3 565.8,2697.8 566.3,2702.7 566.3,2680.8 566.8,2685.3 566.8,2695.9 567.3,2693.8 567.3,2671.9 567.8,2675.0 567.8,2713.4 568.3,2701.8 568.3,2678.0 568.8,2675.1 568.8,2703.3 569.3,2708.1 569.3,2681.3 569.8,2678.4 569.8,2704.6 570.3,2707.6 570.3,2683.3 570.8,2682.8 570.8,2705.6 571.3,2702.0 571.3,2668.7 571.8,2681.0 571.8,2702.3 572.3,2704.5 572.3,2678.6 572.8,2687.2 572.8,2715.2 573.3,2701.5 573.3,2674.3 573.8,2673.3 573.8,2704.2 574.3,2708.5 574.3,2672.9 574.8,2678.0 574.8,2694.7 575.3,2694.7 575.3,2672.8 575.8,2676.4 575.8,2708.9 576.3,2699.9 576.3,2680.5 576.8,2676.3 576.8,2692.2 577.3,2698.8 577.3,2673.1 577.8,2681.7 577.8,2705.8 578.3,2692.0 578.3,2669.0 578.8,2688.0 578.8,2707.5 579.3,2704.0 579.3,2670.7 579.8,2671.1 579.8,2694.7 580.3,2703.2 580.3,2677.9 580.8,2668.5 580.8,2705.5 581.3,2707.3 581.3,2666.0 581.8,2671.3 581.8,2699.2 582.3,2702.4 582.3,2667.8 582.8,2688.6 582.8,2704.6 583.3,2702.4 583.3,2670.1 583.8,2673.0 583.8,2711.6 584.3,2701.8 584.3,2680.9 584.8,2670.8 584.8,2718.1 585.3,2715.3 585.3,2675.4 585.8,2674.9 585.8,2709.6 586.3,2702.1 586.3,2678.4 586.8,2675.4 586.8,2703.5 587.3,2700.5 587.3,2675.2 587.8,2685.6 587.8,2698.7 588.3,2711.7 588.3,2674.2 588.8,2675.2 588.8,2702.4 589.3,2695.6 589.3,2671.8 589.8,2673.1 589.8,2698.3 590.3,2692.7 590.3,2679.2 590.8,2672.4 590.8,2704.9 591.3,2706.2 591.3,2682.9 591.8,2680.9 591.8,2704.2 592.3,2697.9 592.3,2685.2 592.8,2664.9 592.8,2698.6 593.3,2715.5 593.3,2681.6 593.8,2675.8 593.8,2695.3 594.3,2706.0 594.3,2668.5 594.8,2675.4 594.8,2704.8 595.3,2702.5 595.3,2686.4 595.8,2678.2 595.8,2695.7 596.3,2699.7 596.3,2675.9 596.8,2677.4 596.8,2706.7 597.3,2699.6 597.3,2679.5 597.8,2675.1 597.8,2711.5 598.3,2698.1 598.3,2682.0 598.8,2678.0 598.8,2698.9 599.3,2697.9 599.3,2672.8 599.8,2676.8 599.8,2706.9 600.3,2708.0 600.3,2677.3 600.8,2680.5 600.8,2699.9 601.3,2704.8 601.3,2677.2 601.8,2670.2 601.8,2695.2 602.3,2705.8 602.3,2685.4 602.8,2668.3 602.8,2699.3 603.3,2704.8 603.3,2667.6 603.8,2680.6 603.8,2704.0 604.3,2701.4 604.3,2674.4 604.8,2674.9 604.8,2691.8 605.3,2701.4 605.3,2670.7 605.8,2687.1 605.8,2704.0 606.3,2700.4 606.3,2673.0 606.8,2688.1 606.8,2706.0 607.3,2699.8 607.3,2668.9 607.8,2673.8 607.8,2706.2 608.3,2698.2 608.3,2678.4 608.8,2660.5 608.8,2699.6 609.3,2691.4 609.3,2686.2 609.8,2680.1 609.8,2709.1 610.3,2699.0 610.3,2674.8 610.8,2667.3 610.8,2686.4 611.3,2691.7 611.3,2674.6 611.8,2671.7 611.8,2695.0 612.3,2696.4 612.3,2658.8 612.8,2670.5 612.8,2698.7 613.3,2699.2 613.3,2673.8 613.8,2671.8 613.8,2701.7 614.3,2700.1 614.3,2678.2 614.8,2680.7 614.8,2706.9 615.3,2704.1 615.3,2679.0 615.8,2675.3 615.8,2694.5 616.3,2717.4 616.3,2680.7 616.8,2677.4 616.8,2717.8 617.3,2708.5 617.3,2668.2 617.8,2681.4 617.8,2708.2 618.3,2709.1 618.3,2687.1 618.8,2675.4 618.8,2706.0 619.3,2700.8 619.3,2685.7 619.8,2664.4 619.8,2708.9 620.3,2691.5 620.3,2672.1 620.8,2676.4 620.8,2695.2 621.3,2691.4 621.3,2673.5 621.8,2670.7 621.8,2696.9 622.3,2700.7 622.3,2675.9 622.8,2677.2 622.8,2710.5 623.3,2705.6 623.3,2667.8 623.8,2684.5 623.8,2711.9 624.3,2690.4 624.3,2676.3 624.8,2666.5 624.8,2693.0 625.3,2695.6 625.3,2665.3 625.8,2670.4 625.8,2700.8 626.3,2696.9 626.3,2663.8 626.8,2676.2 626.8,2699.2 627.3,2700.7 627.3,2669.0 627.8,2666.0 627.8,2707.8 628.3,2700.6 628.3,2670.0 628.8,2672.3 628.8,2701.0 629.3,2708.1 629.3,2685.2 629.8,2681.0 629.8,2700.5 630.3,2697.3 630.3,2677.0 630.8,2675.6 630.8,2713.0 631.3,2701.6 631.3,2675.0 631.8,2691.2 631.8,2699.5 632.3,2702.7 632.3,2678.4 632.8,2679.2 632.8,2719.3 633.3,2709.4 633.3,2680.0 633.8,2684.3 633.8,2706.2 634.3,2699.4 634.3,2670.2 634.8,2673.9 634.8,2700.5 635.3,2710.9 635.3,2680.2 635.8,2678.9 635.8,2700.7 636.3,2709.4 636.3,2667.6 636.8,2671.8 636.8,2702.6 637.3,2704.0 637.3,2673.1 637.8,2682.5 637.8,2709.3 638.3,2699.5 638.3,2672.3 638.8,2673.3 638.8,2707.8 639.3,2705.5 639.3,2675.2 639.8,2678.6 639.8,2711.8 640.3,2697.1 640.3,2682.2 640.8,2672.3 640.8,2703.1 641.3,2698.8 641.3,2674.5 641.8,2673.8 641.8,2708.2 642.3,2705.0 642.3,2668.2 642.8,2671.0 642.8,2706.1 643.3,2706.2 643.3,2670.0 643.8,2665.3 643.8,2692.0 644.3,2686.4 644.3,2675.9 644.8,2653.5 644.8,2698.6 645.3,2700.7 645.3,2678.5 645.8,2671.7 645.8,2693.2 646.3,2700.4 646.3,2684.8 646.8,2670.9 646.8,2709.3 647.3,2704.9 647.3,2673.0 647.8,2677.8 647.8,2705.5 648.3,2711.2 648.3,2676.2 648.8,2687.4 648.8,2706.4 649.3,2706.4 649.3,2676.7 649.8,2671.4 649.8,2702.0 650.3,2699.1 650.3,2688.4 650.8,2679.3 650.8,2699.4 651.3,2703.4 651.3,2678.6 651.8,2675.5 651.8,2706.7 652.3,2697.3 652.3,2676.6 652.8,2675.3 652.8,2698.2 653.3,2720.5 653.3,2675.0 653.8,2671.8 653.8,2699.8 654.3,2701.4 654.3,2681.5 654.8,2680.4 654.8,2710.2 655.3,2707.4 655.3,2663.6 655.8,2681.6 655.8,2721.6 656.3,2703.1 656.3,2679.0 656.8,2678.8 656.8,2706.0 657.3,2698.5 657.3,2679.2 657.8,2679.0 657.8,2700.0 658.3,2704.9 658.3,2670.5 658.8,2676.1 658.8,2699.8 659.3,2718.9 659.3,2683.1 659.8,2671.8 659.8,2707.0 660.3,2705.6 660.3,2682.0 660.8,2688.6 660.8,2706.6 661.3,2700.6 661.3,2675.0 661.8,2683.8 661.8,2698.5 662.3,2713.5 662.3,2683.1 662.8,2689.5 662.8,2713.5 663.3,2710.3 663.3,2682.9 663.8,2684.4 663.8,2705.7 664.3,2702.9 664.3,2675.8 664.8,2664.8 664.8,2707.3 665.3,2695.1 665.3,2676.9 665.8,2670.2 665.8,2701.0 666.3,2715.4 666.3,2668.0 666.8,2676.9 666.8,2694.3 667.3,2691.6 667.3,2676.5 667.8,2677.5 667.8,2703.3 668.3,2690.1 668.3,2674.9 668.8,2666.8 668.8,2689.9 669.3,2691.2 669.3,2682.4 669.8,2670.2 669.8,2706.4 670.3,2701.7 670.3,2669.3 670.8,2684.0 670.8,2693.5 671.3,2702.9 671.3,2672.3 671.8,2677.3 671.8,2704.5 672.3,2694.7 672.3,2671.1 672.8,2673.6 672.8,2698.9 673.3,2703.3 673.3,2674.6 673.8,2682.6 673.8,2701.1 674.3,2693.1 674.3,2660.9 674.8,2681.8 674.8,2697.9 675.3,2686.4 675.3,2665.3 675.8,2682.2 675.8,2697.6 676.3,2700.9 676.3,2680.5 676.8,2677.5 676.8,2699.9 677.3,2692.7 677.3,2679.8 677.8,2677.2 677.8,2705.1 678.3,2705.0 678.3,2674.7 678.8,2681.3 678.8,2703.0 679.3,2692.2 679.3,2664.6 679.8,2670.3 679.8,2702.7 680.3,2691.1 680.3,2668.4 680.8,2670.4 680.8,2697.7 681.3,2706.5 681.3,2686.1 681.8,2681.9 681.8,2708.3 682.3,2699.9 682.3,2674.7 682.8,2676.5 682.8,2699.6 683.3,2700.7 683.3,2681.7 683.8,2684.1 683.8,2702.5 684.3,2709.4 684.3,2680.0 684.8,2667.8 684.8,2707.5 685.3,2704.0 685.3,2683.0 685.8,2680.9 685.8,2700.6 686.3,2697.2 686.3,2674.7 686.8,2666.8 686.8,2703.7 687.3,2706.3 687.3,2677.6 687.8,2688.6 687.8,2700.6 688.3,2702.2 688.3,2682.7 688.8,2683.9 688.8,2698.1 689.3,2698.0 689.3,2683.4 689.8,2684.3 689.8,2701.3 690.3,2697.4 690.3,2670.6 690.8,2665.6 690.8,2692.1 691.3,2705.5 691.3,2677.2 691.8,2675.4 691.8,2708.0 692.3,2709.7 692.3,2678.9 692.8,2687.8 692.8,2707.0 693.3,2702.2 693.3,2674.7 693.8,2686.0 693.8,2706.1 694.3,2702.6 694.3,2678.8 694.8,2680.0 694.8,2700.6 695.3,2709.2 695.3,2682.6 695.8,2686.6 695.8,2704.4 696.3,2705.4 696.3,2671.4 696.8,2685.3 696.8,2710.9 697.3,2709.7 697.3,2681.5 697.8,2664.2 697.8,2700.6 698.3,2709.9 698.3,2686.4 698.8,2686.2 698.8,2693.1 699.3,2703.5 699.3,2675.2 699.8,2688.7 699.8,2709.1 700.3,2698.2 700.3,2676.6 700.8,2681.5 700.8,2707.4 701.3,2694.0 701.3,2675.4 701.8,2676.8 701.8,2701.2 702.3,2703.1 702.3,2674.7 702.8,2673.9 702.8,2695.2 703.3,2699.7 703.3,2678.3 703.8,2673.2 703.8,2699.3 704.3,2699.8 704.3,2676.5 704.8,2660.6 704.8,2700.1 705.3,2703.5 705.3,2672.4 705.8,2678.4 705.8,2716.4 706.3,2713.6 706.3,2680.9 706.8,2676.8 706.8,2699.6 707.3,2697.0 707.3,2672.9 707.8,2669.5 707.8,2705.9 708.3,2694.1 708.3,2681.2 708.8,2664.3 708.8,2704.3 709.3,2693.6 709.3,2661.5 709.8,2671.7 709.8,2701.3 710.3,2692.0 710.3,2666.0 710.8,2668.3 710.8,2700.5 711.3,2705.8 711.3,2681.6 711.8,2677.7 711.8,2699.2 712.3,2702.4 712.3,2674.2 712.8,2684.1 712.8,2708.6 713.3,2702.6 713.3,2677.1 713.8,2680.4 713.8,2709.3 714.3,2702.8 714.3,2659.9 714.8,2671.8 714.8,2706.1 715.3,2697.0 715.3,2669.2 715.8,2681.0 715.8,2696.4 716.3,2706.8 716.3,2668.0 716.8,2676.5 716.8,2709.0 717.3,2701.8 717.3,2664.4 717.8,2677.1 717.8,2699.6 718.3,2698.6 718.3,2680.1 718.8,2675.8 718.8,2706.8 719.3,2714.4 719.3,2680.4 719.8,2668.5 719.8,2714.1 720.3,2706.5 720.3,2683.1 720.8,2687.4 720.8,2703.2 721.3,2699.1 721.3,2675.3 721.8,2657.0 721.8,2703.7 722.3,2687.9 722.3,2670.4 722.8,2682.0 722.8,2705.4 723.3,2695.4 723.3,2676.2 723.8,2677.3 723.8,2705.5 724.3,2706.2 724.3,2673.3 724.8,2676.2 724.8,2706.1 725.3,2703.5 725.3,2675.9 725.8,2678.4 725.8,2710.8 726.3,2704.5 726.3,2677.1 726.8,2678.2 726.8,2703.1 727.3,2699.1 727.3,2687.5 727.8,2667.7 727.8,2693.6 728.3,2701.1 728.3,2670.6 728.8,2672.9 728.8,2692.9 729.3,2696.4 729.3,2674.9 729.8,2673.5 729.8,2702.5 730.3,2696.3 730.3,2671.8 730.8,2676.8 730.8,2689.8 731.3,2693.7 731.3,2674.5 731.8,2674.0 731.8,2700.1 732.3,2697.8 732.3,2677.7 732.8,2678.1 732.8,2710.0 733.3,2705.9 733.3,2677.1 733.8,2680.4 733.8,2704.1 734.3,2709.9 734.3,2687.3 734.8,2681.4 734.8,2700.2 735.3,2699.2 735.3,2682.2 735.8,2673.8 735.8,2714.4 736.3,2718.7 736.3,2687.6 736.8,2683.4 736.8,2718.3 737.3,2701.5 737.3,2680.5 737.8,2693.4 737.8,2702.6 738.3,2698.9 738.3,2684.8 738.8,2684.5 738.8,2713.3 739.3,2706.1 739.3,2678.2 739.8,2678.8 739.8,2708.8 740.3,2705.3 740.3,2686.2 740.8,2685.0 740.8,2707.6 741.3,2702.4 741.3,2672.2 741.8,2688.5 741.8,2698.5 742.3,2705.4 742.3,2671.8 742.8,2678.1 742.8,2698.2 743.3,2697.1 743.3,2677.2 743.8,2687.3 743.8,2708.0 744.3,2699.6 744.3,2682.5 744.8,2687.2 744.8,2699.9 745.3,2707.4 745.3,2659.7 745.8,2675.6 745.8,2714.7 746.3,2701.0 746.3,2673.5 746.8,2686.4 746.8,2703.1 747.3,2698.1 747.3,2667.1 747.8,2679.1 747.8,2690.9 748.3,2706.4 748.3,2684.9 748.8,2668.7 748.8,2702.6 749.3,2713.7 749.3,2676.4 749.8,2678.5 749.8,2706.9 750.3,2698.9 750.3,2671.0 750.8,2666.8 750.8,2700.4 751.3,2706.5 751.3,2679.5 751.8,2670.0 751.8,2715.3 752.3,2697.8 752.3,2674.6 752.8,2676.0 752.8,2697.5 753.3,2701.6 753.3,2692.6 753.8,2681.2 753.8,2709.1 754.3,2716.4 754.3,2675.4 754.8,2675.9 754.8,2699.6 755.3,2707.7 755.3,2678.1 755.8,2674.1 755.8,2699.6 756.3,2701.7 756.3,2679.9 756.8,2682.6 756.8,2716.8 757.3,2709.0 757.3,2678.2 757.8,2670.7 757.8,2694.4 758.3,2701.9 758.3,2688.8 758.8,2676.5 758.8,2707.1 759.3,2705.6 759.3,2684.4 759.8,2676.0 759.8,2703.1 760.3,2705.4 760.3,2685.5 760.8,2680.4 760.8,2718.2 761.3,2699.2 761.3,2685.5 761.8,2677.8 761.8,2691.0 762.3,2701.2 762.3,2681.4 762.8,2683.6 762.8,2704.6 763.3,2691.6 763.3,2673.6 763.8,2685.2 763.8,2699.1 764.3,2700.3 764.3,2672.8 764.8,2667.7 764.8,2693.1 765.3,2704.5 765.3,2672.3 765.8,2676.5 765.8,2704.2 766.3,2699.3 766.3,2672.0 766.8,2682.6 766.8,2700.0 767.3,2695.4 767.3,2679.5 767.8,2670.6 767.8,2703.4 768.3,2704.4 768.3,2681.5 768.8,2665.8 768.8,2697.9 769.3,2700.5 769.3,2679.9 769.8,2684.4 769.8,2708.7 770.3,2706.6 770.3,2679.1 770.8,2690.6 770.8,2703.2 771.3,2695.6 771.3,2681.7 771.8,2670.5 771.8,2699.3 772.3,2697.5 772.3,2670.9 772.8,2674.2 772.8,2699.5 773.3,2696.2 773.3,2672.2 773.8,2673.4 773.8,2697.3 774.3,2697.8 774.3,2658.7 774.8,2672.4 774.8,2705.1 775.3,2698.7 775.3,2672.9 775.8,2680.7 775.8,2707.8 776.3,2703.1 776.3,2674.2 776.8,2676.1 776.8,2695.3 777.3,2695.1 777.3,2669.4 777.8,2679.7 777.8,2697.8 778.3,2699.1 778.3,2687.2 778.8,2679.3 778.8,2705.4 779.3,2711.1 779.3,2670.9 779.8,2680.6 779.8,2706.4 780.3,2698.1 780.3,2673.5 780.8,2670.7 780.8,2695.6 781.3,2701.1 781.3,2657.1 781.8,2670.2 781.8,2706.9 782.3,2702.8 782.3,2685.9 782.8,2680.8 782.8,2710.1 783.3,2696.0 783.3,2672.4 783.8,2684.1 783.8,2696.3 784.3,2699.7 784.3,2678.5 784.8,2676.9 784.8,2704.8 785.3,2702.4 785.3,2670.6 785.8,2685.6 785.8,2703.0 786.3,2702.2 786.3,2676.0 786.8,2684.1 786.8,2707.0 787.3,2704.1 787.3,2674.9 787.8,2681.7 787.8,2711.2 788.3,2704.5 788.3,2678.4 788.8,2677.2 788.8,2702.5 789.3,2708.3 789.3,2680.3 789.8,2679.0 789.8,2693.1 790.3,2704.1 790.3,2665.5 790.8,2667.8 790.8,2696.2 791.3,2700.9 791.3,2668.5 791.8,2665.3 791.8,2715.0 792.3,2690.3 792.3,2652.2 792.8,2663.5 792.8,2694.5 793.3,2697.1 793.3,2677.7 793.8,2680.2 793.8,2691.0 794.3,2699.7 794.3,2676.7 794.8,2659.5 794.8,2689.5 795.3,2700.9 795.3,2678.3 795.8,2682.8 795.8,2701.6 796.3,2708.9 796.3,2666.2 796.8,2678.4 796.8,2705.6 797.3,2708.9 797.3,2680.6 797.8,2680.9 797.8,2711.5 798.3,2704.7 798.3,2679.3 798.8,2672.6 798.8,2721.5 799.3,2699.1 799.3,2681.9 799.8,2685.5 799.8,2701.4 800.3,2703.1 800.3,2668.2 800.8,2675.6 800.8,2693.1 801.3,2701.3 801.3,2672.9 801.8,2668.4 801.8,2700.4 802.3,2690.4 802.3,2669.3 802.8,2672.9 802.8,2700.5 803.3,2696.2 803.3,2673.9 803.8,2685.7 803.8,2701.6 804.3,2700.1 804.3,2676.1 804.8,2673.9 804.8,2701.9 805.3,2706.3 805.3,2684.3 805.8,2661.9 805.8,2707.3 806.3,2701.1 806.3,2684.7 806.8,2666.4 806.8,2708.7 807.3,2697.7 807.3,2672.2 807.8,2686.9 807.8,2707.1 808.3,2716.7 808.3,2671.5 808.8,2675.3 808.8,2711.2 809.3,2713.3 809.3,2680.0 809.8,2683.4 809.8,2719.1 810.3,2702.9 810.3,2692.5 810.8,2671.9 810.8,2709.3 811.3,2692.5 811.3,2675.2 811.8,2674.4 811.8,2701.2 812.3,2703.2 812.3,2682.5 812.8,2680.4 812.8,2708.5 813.3,2700.6 813.3,2676.6 813.8,2675.9 813.8,2704.1 814.3,2693.6 814.3,2673.0 814.8,2676.9 814.8,2703.1 815.3,2716.6 815.3,2680.3 815.8,2686.7 815.8,2705.8 816.3,2688.4 816.3,2677.7 816.8,2673.8 816.8,2702.2 817.3,2704.8 817.3,2674.8 817.8,2675.8 817.8,2698.1 818.3,2703.3 818.3,2673.9 818.8,2665.8 818.8,2695.0 819.3,2707.7 819.3,2677.5 819.8,2681.8 819.8,2705.4 820.3,2707.3 820.3,2665.5 820.8,2668.4 820.8,2702.3 821.3,2702.1 821.3,2677.6 821.8,2673.1 821.8,2705.9 822.3,2698.5 822.3,2673.5 822.8,2677.0 822.8,2699.1 823.3,2706.8 823.3,2687.8 823.8,2672.9 823.8,2711.2 824.3,2714.8 824.3,2683.5 824.8,2672.2 824.8,2702.5 825.3,2698.4 825.3,2667.0 825.8,2665.8 825.8,2701.0 826.3,2699.3 826.3,2666.9 826.8,2670.8 826.8,2708.8 827.3,2711.8 827.3,2680.9 827.8,2681.9 827.8,2700.6 828.3,2698.7 828.3,2665.4 828.8,2668.5 828.8,2703.0 829.3,2706.5 829.3,2679.6 829.8,2685.2 829.8,2705.1 830.3,2706.7 830.3,2671.5 830.8,2674.8 830.8,2713.5 831.3,2703.7 831.3,2677.5 831.8,2668.1 831.8,2698.1 832.3,2704.6 832.3,2667.2 832.8,2663.1 832.8,2718.0 833.3,2687.3 833.3,2678.0 833.8,2676.8 833.8,2699.7 834.3,2708.5 834.3,2662.7 834.8,2670.4 834.8,2696.3 835.3,2694.8 835.3,2678.6 835.8,2669.0 835.8,2700.3 836.3,2700.7 836.3,2677.9 836.8,2663.1 836.8,2690.8 837.3,2704.9 837.3,2675.8 837.8,2671.3 837.8,2698.5 838.3,2712.7 838.3,2669.4 838.8,2683.6 838.8,2705.2 839.3,2708.7 839.3,2673.4 839.8,2683.7 839.8,2704.5 840.3,2710.2 840.3,2677.9 840.8,2676.7 840.8,2705.5 841.3,2702.9 841.3,2677.5 841.8,2685.1 841.8,2700.3 842.3,2710.6 842.3,2677.9 842.8,2674.6 842.8,2701.1 843.3,2704.6 843.3,2677.3 843.8,2678.1 843.8,2704.7 844.3,2708.9 844.3,2680.7 844.8,2681.8 844.8,2702.7 845.3,2699.1 845.3,2677.4 845.8,2683.5 845.8,2699.3 846.3,2700.8 846.3,2679.6 846.8,2686.9 846.8,2700.2 847.3,2696.5 847.3,2671.6 847.8,2675.4 847.8,2694.7 848.3,2713.9 848.3,2669.4 848.8,2672.8 848.8,2705.3 849.3,2703.0 849.3,2681.9 849.8,2673.2 849.8,2698.9 850.3,2697.2 850.3,2681.0 850.8,2673.7 850.8,2698.1 851.3,2698.5 851.3,2670.2 851.8,2680.2 851.8,2708.2 852.3,2702.3 852.3,2675.7 852.8,2674.3 852.8,2691.5 853.3,2704.1 853.3,2661.5 853.8,2683.6 853.8,2701.9 854.3,2705.4 854.3,2689.3 854.8,2688.1 854.8,2708.8 855.3,2708.6 855.3,2684.5 855.8,2676.0 855.8,2713.3 856.3,2707.3 856.3,2678.5 856.6,2711.6 856.7,2690.4 856.8,2709.9 856.8,2704.0 856.9,2693.8 857.0,2681.4 857.1,2669.0 857.1,2656.6 857.2,2644.3 857.3,2631.9 857.3,2619.5 857.4,2607.1 857.5,2594.8 857.6,2582.4 857.6,2570.0 857.7,2557.6 857.8,2545.3 857.8,2532.9 857.9,2520.5 858.0,2508.1 858.1,2495.8 858.1,2483.4 858.2,2471.0 858.3,2458.7 858.3,2446.3 858.4,2433.9 858.5,2421.5 858.6,2409.2 858.6,2396.8 858.7,2384.4 858.8,2372.0 858.8,2359.7 858.9,2347.3 859.0,2334.9 859.1,2322.5 859.1,2310.2 859.2,2297.8 859.3,2285.4 859.3,2273.0 859.4,2273.2 859.5,2246.9 859.8,2248.8 859.8,2284.1 860.3,2273.9 860.3,2251.2 860.8,2260.8 860.8,2275.5 861.3,2279.6 861.3,2261.5 861.8,2252.8 861.8,2279.7 862.3,2270.6 862.3,2251.1 862.8,2258.5 862.8,2274.5 863.3,2279.2 863.3,2260.7 863.8,2252.8 863.8,2273.1 864.3,2278.7 864.3,2252.1 864.8,2250.2 864.8,2283.6 865.3,2274.3 865.3,2261.2 865.8,2254.1 865.8,2271.7 866.3,2286.1 866.3,2265.1 866.8,2266.3 866.8,2291.4 867.3,2288.2 867.3,2261.5 867.8,2262.5 867.8,2281.6 868.3,2287.4 868.3,2264.8 868.8,2272.5 868.8,2311.7 869.3,2307.7 869.3,2267.2 869.8,2265.8 869.8,2294.4 870.3,2290.1 870.3,2263.9 870.8,2266.1 870.8,2294.9 871.3,2297.1 871.3,2270.1 871.8,2265.2 871.8,2288.3 872.3,2284.4 872.3,2259.1 872.8,2269.9 872.8,2279.2 873.3,2284.7 873.3,2268.3 873.8,2266.6 873.8,2291.6 874.3,2291.3 874.3,2269.8 874.8,2260.6 874.8,2291.1 875.3,2302.1 875.3,2259.0 875.8,2263.5 875.8,2297.1 876.3,2300.4 876.3,2272.0 876.8,2259.3 876.8,2290.7 877.3,2284.8 877.3,2269.2 877.8,2267.9 877.8,2291.8 878.3,2299.7 878.3,2256.5 878.8,2264.0 878.8,2285.7 879.3,2297.1 879.3,2274.3 879.8,2266.7 879.8,2284.9 880.3,2289.5 880.3,2263.5 880.8,2270.7 880.8,2290.4 881.3,2290.3 881.3,2265.9 881.8,2263.6 881.8,2296.2 882.3,2304.2 882.3,2261.6 882.8,2271.4 882.8,2305.4 883.3,2281.9 883.3,2259.1 883.8,2275.2 883.8,2291.7 884.3,2293.8 884.3,2267.5 884.8,2260.0 884.8,2289.4 885.3,2298.7 885.3,2273.5 885.8,2271.9 885.8,2290.9 886.3,2298.0 886.3,2279.7 886.8,2252.7 886.8,2282.4 887.3,2297.6 887.3,2277.4 887.8,2258.3 887.8,2275.6 888.3,2298.8 888.3,2265.1 888.8,2270.5 888.8,2300.5 889.3,2311.0 889.3,2269.7 889.8,2263.5 889.8,2314.0 890.3,2293.8 890.3,2273.8 890.8,2266.8 890.8,2293.3 891.3,2292.0 891.3,2275.9 891.8,2270.6 891.8,2298.2 892.3,2297.4 892.3,2276.2 892.8,2277.7 892.8,2306.1 893.3,2313.9 893.3,2274.8 893.8,2270.4 893.8,2295.9 894.3,2303.3 894.3,2276.7 894.8,2284.9 894.8,2301.6 895.3,2299.4 895.3,2266.7 895.8,2267.5 895.8,2295.6 896.3,2308.1 896.3,2268.5 896.8,2268.9 896.8,2304.7 897.3,2301.1 897.3,2277.1 897.8,2275.3 897.8,2300.8 898.3,2307.5 898.3,2280.1 898.8,2284.6 898.8,2306.5 899.3,2296.0 899.3,2280.1 899.8,2276.9 899.8,2291.6 900.3,2297.8 900.3,2265.9 900.8,2277.6 900.8,2314.5 901.3,2300.7 901.3,2282.7 901.8,2267.3 901.8,2302.0 902.3,2299.3 902.3,2273.3 902.8,2278.4 902.8,2300.9 903.3,2303.0 903.3,2279.4 903.8,2281.4 903.8,2300.6 904.3,2310.8 904.3,2262.1 904.8,2288.6 904.8,2305.9 905.3,2305.6 905.3,2283.4 905.8,2280.2 905.8,2306.0 906.3,2307.3 906.3,2274.6 906.8,2280.8 906.8,2317.6 907.3,2312.4 907.3,2285.5 907.8,2291.8 907.8,2311.2 908.3,2308.4 908.3,2283.0 908.8,2278.9 908.8,2302.4 909.3,2312.8 909.3,2288.6 909.8,2275.4 909.8,2304.7 910.3,2304.5 910.3,2279.1 910.8,2280.0 910.8,2308.5 911.3,2310.2 911.3,2276.7 911.8,2272.4 911.8,2294.6 912.3,2298.0 912.3,2276.7 912.8,2282.8 912.8,2312.7 913.3,2290.6 913.3,2274.5 913.8,2279.8 913.8,2312.0 914.3,2308.1 914.3,2266.9 914.8,2284.8 914.8,2298.4 915.3,2292.2 915.3,2282.7 915.8,2282.1 915.8,2296.5 916.3,2308.0 916.3,2281.2 916.8,2278.5 916.8,2299.4 917.3,2305.8 917.3,2282.5 917.8,2273.5 917.8,2297.7 918.3,2300.7 918.3,2275.2 918.8,2266.4 918.8,2303.5 919.3,2297.9 919.3,2259.3 919.8,2279.3 919.8,2305.5 920.3,2297.1 920.3,2279.6 920.8,2278.9 920.8,2308.0 921.3,2305.0 921.3,2270.0 921.8,2259.5 921.8,2311.0 922.3,2305.1 922.3,2266.0 922.8,2279.6 922.8,2301.8 923.3,2308.2 923.3,2277.9 923.8,2282.0 923.8,2304.1 924.3,2302.0 924.3,2282.2 924.8,2278.9 924.8,2303.0 925.3,2323.0 925.3,2272.6 925.8,2269.3 925.8,2304.6 926.3,2301.6 926.3,2283.8 926.8,2266.1 926.8,2301.5 927.3,2298.4 927.3,2270.8 927.8,2271.7 927.8,2310.9 928.3,2300.7 928.3,2278.9 928.8,2276.5 928.8,2303.2 929.3,2304.9 929.3,2282.2 929.8,2276.3 929.8,2300.6 930.3,2301.4 930.3,2273.0 930.8,2265.9 930.8,2307.1 931.3,2299.1 931.3,2274.5 931.8,2265.1 931.8,2317.4 932.3,2297.3 932.3,2277.4 932.8,2274.9 932.8,2297.2 933.3,2296.3 933.3,2271.5 933.8,2284.5 933.8,2306.0 934.3,2307.6 934.3,2274.0 934.8,2275.5 934.8,2306.9 935.3,2308.2 935.3,2279.1 935.8,2279.4 935.8,2302.3 936.3,2299.9 936.3,2265.6 936.8,2276.8 936.8,2309.3 937.3,2304.2 937.3,2282.5 937.8,2282.9 937.8,2295.5 938.3,2307.1 938.3,2275.0 938.8,2284.0 938.8,2306.6 939.3,2298.7 939.3,2272.0 939.8,2278.4 939.8,2310.0 940.3,2305.1 940.3,2276.8 940.8,2276.7 940.8,2299.6 941.3,2307.1 941.3,2274.6 941.8,2283.6 941.8,2310.0 942.3,2304.8 942.3,2275.9 942.8,2268.2 942.8,2298.2 943.3,2314.5 943.3,2281.0 943.8,2275.7 943.8,2296.1 944.3,2301.7 944.3,2274.7 944.8,2280.7 944.8,2298.9 945.3,2301.7 945.3,2278.8 945.8,2285.3 945.8,2299.8 946.3,2304.1 946.3,2283.0 946.8,2273.3 946.8,2301.3 947.3,2311.4 947.3,2273.2 947.8,2271.0 947.8,2310.8 948.3,2299.0 948.3,2275.6 948.8,2282.0 948.8,2303.3 949.3,2299.4 949.3,2278.7 949.8,2279.4 949.8,2304.1 950.3,2293.6 950.3,2265.4 950.8,2269.8 950.8,2294.7 951.3,2314.0 951.3,2280.2 951.8,2283.3 951.8,2297.2 952.3,2306.5 952.3,2280.6 952.8,2261.3 952.8,2310.2 953.3,2299.3 953.3,2278.8 953.8,2270.8 953.8,2300.6 954.3,2291.1 954.3,2269.6 954.8,2278.1 954.8,2301.2 955.3,2306.9 955.3,2269.9 955.8,2268.1 955.8,2292.6 956.3,2303.3 956.3,2273.9 956.8,2275.5 956.8,2296.8 957.3,2302.0 957.3,2270.0 957.8,2279.4 957.8,2300.5 958.3,2298.8 958.3,2278.7 958.8,2279.7 958.8,2310.5 959.3,2305.4 959.3,2277.9 959.8,2283.5 959.8,2300.2 960.3,2299.7 960.3,2275.5 960.8,2272.4 960.8,2303.7 961.3,2308.3 961.3,2286.2 961.8,2274.6 961.8,2298.1 962.3,2302.0 962.3,2276.0 962.8,2267.4 962.8,2301.6 963.3,2302.1 963.3,2276.6 963.8,2287.5 963.8,2319.6 964.3,2311.1 964.3,2278.9 964.8,2279.8 964.8,2311.1 965.3,2306.9 965.3,2278.9 965.8,2275.9 965.8,2303.2 966.3,2297.9 966.3,2266.2 966.8,2280.9 966.8,2295.7 967.3,2299.1 967.3,2276.4 967.8,2273.3 967.8,2301.6 968.3,2287.6 968.3,2272.3 968.8,2273.6 968.8,2299.6 969.3,2288.6 969.3,2274.8 969.8,2256.3 969.8,2293.1 970.3,2299.1 970.3,2275.0 970.8,2265.1 970.8,2297.6 971.3,2307.6 971.3,2267.3 971.8,2275.2 971.8,2293.6 972.3,2308.6 972.3,2273.2 972.8,2263.4 972.8,2308.6 973.3,2295.9 973.3,2280.4 973.8,2273.7 973.8,2293.5 974.3,2296.0 974.3,2268.8 974.8,2277.1 974.8,2298.8 975.3,2302.6 975.3,2264.0 975.8,2283.4 975.8,2307.9 976.3,2297.5 976.3,2277.8 976.8,2263.8 976.8,2307.7 977.3,2295.3 977.3,2270.9 977.8,2273.5 977.8,2301.3 978.3,2295.8 978.3,2278.1 978.8,2273.6 978.8,2290.9 979.3,2304.8 979.3,2272.1 979.8,2270.8 979.8,2296.6 980.3,2292.4 980.3,2274.2 980.8,2284.1 980.8,2314.5 981.3,2291.3 981.3,2278.4 981.8,2269.9 981.8,2300.0 982.3,2296.0 982.3,2279.8 982.8,2275.6 982.8,2299.1 983.3,2300.7 983.3,2267.1 983.8,2270.2 983.8,2302.2 984.3,2298.7 984.3,2274.5 984.8,2276.5 984.8,2291.1 985.3,2289.6 985.3,2263.3 985.8,2272.5 985.8,2294.0 986.3,2290.9 986.3,2266.2 986.8,2270.3 986.8,2290.5 987.3,2291.3 987.3,2270.3 987.8,2276.7 987.8,2299.7 988.3,2298.0 988.3,2268.0 988.8,2273.9 988.8,2301.0 989.3,2296.1 989.3,2273.7 989.8,2277.9 989.8,2301.3 990.3,2301.4 990.3,2279.4 990.8,2275.6 990.8,2296.9 991.3,2301.2 991.3,2280.4 991.8,2267.4 991.8,2299.1 992.3,2294.4 992.3,2272.4 992.8,2275.1 992.8,2297.5 993.3,2291.7 993.3,2270.9 993.8,2268.4 993.8,2283.0 994.3,2293.7 994.3,2273.5 994.8,2280.6 994.8,2293.0 995.3,2293.7 995.3,2267.3 995.8,2273.8 995.8,2307.0 996.3,2297.0 996.3,2269.6 996.8,2275.6 996.8,2296.3 997.3,2303.7 997.3,2275.5 997.8,2277.6 997.8,2292.6 998.3,2310.0 998.3,2273.9 998.8,2285.5 998.8,2304.3 999.3,2302.1 999.3,2276.7 999.8,2265.5 999.8,2289.9 1000.3,2295.2 1000.3,2274.3 1000.8,2284.2 1000.8,2310.6 1001.3,2285.4 1001.3,2267.4 1001.8,2272.8 1001.8,2297.0 1002.3,2290.5 1002.3,2273.4 1002.8,2271.9 1002.8,2301.2 1003.3,2297.7 1003.3,2268.5 1003.8,2280.2 1003.8,2314.5 1004.3,2316.4 1004.3,2269.4 1004.8,2279.3 1004.8,2298.6 1005.3,2304.9 1005.3,2277.6 1005.8,2272.4 1005.8,2303.9 1006.3,2308.7 1006.3,2271.3 1006.8,2274.9 1006.8,2302.5 1007.3,2303.0 1007.3,2284.4 1007.8,2269.8 1007.8,2299.4 1008.3,2304.0 1008.3,2285.6 1008.8,2280.0 1008.8,2305.4 1009.3,2300.2 1009.3,2278.0 1009.8,2271.8 1009.8,2311.4 1010.3,2305.8 1010.3,2283.1 1010.8,2259.7 1010.8,2295.7 1011.3,2301.6 1011.3,2273.4 1011.8,2274.0 1011.8,2297.2 1012.3,2287.2 1012.3,2266.8 1012.8,2277.5 1012.8,2295.4 1013.3,2294.9 1013.3,2270.5 1013.8,2264.1 1013.8,2298.0 1014.3,2299.5 1014.3,2271.2 1014.8,2263.6 1014.8,2306.7 1015.3,2306.5 1015.3,2269.0 1015.8,2265.8 1015.8,2306.0 1016.3,2309.1 1016.3,2273.1 1016.8,2275.8 1016.8,2302.1 1017.3,2297.7 1017.3,2278.6 1017.8,2280.6 1017.8,2296.9 1018.3,2305.9 1018.3,2281.0 1018.8,2277.5 1018.8,2306.4 1019.3,2308.8 1019.3,2278.8 1019.8,2276.9 1019.8,2309.4 1020.3,2309.8 1020.3,2276.8 1020.8,2274.0 1020.8,2296.4 1021.3,2301.2 1021.3,2268.7 1021.8,2258.6 1021.8,2309.5 1022.3,2308.1 1022.3,2272.5 1022.8,2277.3 1022.8,2307.5 1023.3,2298.1 1023.3,2282.6 1023.8,2272.3 1023.8,2295.8 1024.3,2308.5 1024.3,2277.3 1024.8,2268.6 1024.8,2317.8 1025.3,2301.5 1025.3,2275.0 1025.8,2278.9 1025.8,2310.8 1026.3,2318.7 1026.3,2270.8 1026.8,2285.6 1026.8,2302.1 1027.3,2296.2 1027.3,2278.1 1027.8,2287.8 1027.8,2302.3 1028.3,2303.4 1028.3,2273.8 1028.8,2278.6 1028.8,2304.4 1029.3,2300.7 1029.3,2271.5 1029.8,2283.6 1029.8,2305.0 1030.3,2301.9 1030.3,2275.8 1030.8,2279.8 1030.8,2296.5 1031.3,2302.0 1031.3,2275.5 1031.8,2263.3 1031.8,2299.2 1032.3,2294.1 1032.3,2274.9 1032.8,2276.5 1032.8,2297.2 1033.3,2292.6 1033.3,2275.3 1033.8,2283.7 1033.8,2318.6 1034.3,2296.8 1034.3,2277.1 1034.8,2282.2 1034.8,2309.2 1035.3,2296.8 1035.3,2283.3 1035.8,2278.9 1035.8,2298.1 1036.3,2308.1 1036.3,2285.2 1036.8,2280.9 1036.8,2309.8 1037.3,2301.2 1037.3,2281.3 1037.8,2275.6 1037.8,2307.9 1038.3,2294.0 1038.3,2267.0 1038.8,2279.5 1038.8,2300.8 1039.3,2307.7 1039.3,2260.7 1039.8,2287.2 1039.8,2305.7 1040.3,2301.2 1040.3,2271.7 1040.8,2276.2 1040.8,2301.9 1041.3,2304.0 1041.3,2281.6 1041.8,2274.0 1041.8,2300.8 1042.3,2302.7 1042.3,2286.1 1042.8,2283.3 1042.8,2321.3 1043.3,2298.6 1043.3,2285.5 1043.8,2281.1 1043.8,2307.4 1044.3,2304.9 1044.3,2291.7 1044.8,2278.5 1044.8,2295.8 1045.3,2297.3 1045.3,2277.5 1045.8,2286.1 1045.8,2301.9 1046.3,2309.1 1046.3,2283.7 1046.8,2289.7 1046.8,2302.2 1047.3,2295.9 1047.3,2276.2 1047.8,2269.5 1047.8,2304.8 1048.3,2292.6 1048.3,2270.7 1048.8,2276.6 1048.8,2305.8 1049.3,2301.0 1049.3,2275.5 1049.8,2283.8 1049.8,2296.1 1050.3,2305.4 1050.3,2281.1 1050.8,2271.2 1050.8,2306.9 1051.3,2293.8 1051.3,2274.4 1051.8,2270.6 1051.8,2295.3 1052.3,2312.8 1052.3,2286.6 1052.8,2273.4 1052.8,2293.4 1053.3,2298.1 1053.3,2270.8 1053.8,2274.2 1053.8,2287.4 1054.3,2289.6 1054.3,2280.5 1054.8,2277.3 1054.8,2305.3 1055.3,2299.7 1055.3,2282.2 1055.8,2274.1 1055.8,2297.2 1056.3,2287.7 1056.3,2263.6 1056.8,2283.9 1056.8,2297.3 1057.3,2293.6 1057.3,2261.2 1057.8,2269.8 1057.8,2294.2 1058.3,2298.1 1058.3,2280.2 1058.8,2282.3 1058.8,2310.3 1059.3,2294.7 1059.3,2273.2 1059.8,2257.0 1059.8,2286.7 1060.3,2306.5 1060.3,2273.0 1060.8,2278.9 1060.8,2303.0 1061.3,2312.1 1061.3,2291.3 1061.8,2280.7 1061.8,2298.1 1062.3,2307.8 1062.3,2278.5 1062.8,2277.8 1062.8,2305.5 1063.3,2299.6 1063.3,2274.4 1063.8,2281.1 1063.8,2299.2 1064.3,2308.0 1064.3,2275.8 1064.8,2266.2 1064.8,2295.4 1065.3,2298.2 1065.3,2270.2 1065.8,2275.3 1065.8,2309.2 1066.3,2314.6 1066.3,2272.1 1066.8,2275.7 1066.8,2314.9 1067.3,2304.1 1067.3,2280.0 1067.8,2276.3 1067.8,2306.7 1068.3,2312.2 1068.3,2274.6 1068.8,2263.0 1068.8,2308.3 1069.3,2301.6 1069.3,2283.9 1069.8,2275.1 1069.8,2314.0 1070.3,2290.7 1070.3,2282.2 1070.8,2279.1 1070.8,2301.7 1071.3,2306.1 1071.3,2276.4 1071.8,2282.3 1071.8,2302.6 1072.3,2300.4 1072.3,2273.0 1072.8,2274.7 1072.8,2298.2 1073.3,2295.7 1073.3,2264.7 1073.8,2273.4 1073.8,2297.5 1074.3,2289.1 1074.3,2270.1 1074.8,2267.2 1074.8,2299.1 1075.3,2290.4 1075.3,2270.6 1075.8,2259.3 1075.8,2303.2 1076.3,2286.5 1076.3,2273.6 1076.8,2269.2 1076.8,2293.2 1077.3,2299.6 1077.3,2272.0 1077.8,2277.7 1077.8,2302.8 1078.3,2303.0 1078.3,2268.1 1078.8,2274.9 1078.8,2298.2 1079.3,2293.5 1079.3,2271.0 1079.8,2273.9 1079.8,2304.9 1080.3,2301.1 1080.3,2277.9 1080.8,2275.2 1080.8,2306.3 1081.3,2307.5 1081.3,2278.4 1081.8,2266.4 1081.8,2297.0 1082.3,2303.7 1082.3,2283.4 1082.8,2276.4 1082.8,2296.4 1083.3,2305.9 1083.3,2269.0 1083.8,2278.7 1083.8,2308.1 1084.3,2294.5 1084.3,2266.1 1084.8,2274.9 1084.8,2300.1 1085.3,2299.1 1085.3,2265.6 1085.8,2278.6 1085.8,2299.7 1086.3,2301.8 1086.3,2277.8 1086.8,2265.4 1086.8,2305.9 1087.3,2293.6 1087.3,2274.7 1087.8,2272.7 1087.8,2301.0 1088.3,2308.5 1088.3,2268.8 1088.8,2280.6 1088.8,2289.3 1089.3,2298.2 1089.3,2273.0 1089.8,2274.4 1089.8,2295.4 1090.3,2292.9 1090.3,2273.2 1090.8,2275.2 1090.8,2290.3 1091.3,2300.7 1091.3,2276.0 1091.8,2265.4 1091.8,2293.0 1092.3,2300.2 1092.3,2272.8 1092.8,2265.3 1092.8,2283.7 1093.3,2294.5 1093.3,2273.6 1093.8,2276.1 1093.8,2297.9 1094.3,2301.1 1094.3,2285.1 1094.8,2278.8 1094.8,2293.3 1095.3,2299.0 1095.3,2278.0 1095.8,2257.5 1095.8,2304.3 1096.3,2285.7 1096.3,2271.0 1096.8,2269.0 1096.8,2304.5 1097.3,2295.7 1097.3,2274.9 1097.8,2254.2 1097.8,2307.1 1098.3,2301.0 1098.3,2270.9 1098.8,2278.0 1098.8,2307.6 1099.3,2293.0 1099.3,2270.9 1099.8,2260.3 1099.8,2293.2 1100.3,2292.8 1100.3,2276.6 1100.8,2268.0 1100.8,2291.4 1101.3,2297.5 1101.3,2274.3 1101.8,2276.8 1101.8,2303.0 1102.3,2296.8 1102.3,2269.4 1102.8,2265.4 1102.8,2293.1 1103.3,2299.0 1103.3,2267.5 1103.8,2284.3 1103.8,2314.5 1104.3,2301.8 1104.3,2276.6 1104.8,2279.2 1104.8,2297.4 1105.3,2302.5 1105.3,2284.7 1105.8,2276.7 1105.8,2305.9 1106.3,2300.8 1106.3,2272.6 1106.8,2268.0 1106.8,2307.7 1107.3,2306.7 1107.3,2277.9 1107.8,2278.8 1107.8,2303.0 1108.3,2303.0 1108.3,2275.2 1108.8,2278.1 1108.8,2304.5 1109.3,2301.6 1109.3,2278.5 1109.8,2259.1 1109.8,2304.0 1110.3,2291.6 1110.3,2270.2 1110.8,2269.8 1110.8,2297.1 1111.3,2293.7 1111.3,2268.3 1111.8,2272.4 1111.8,2305.3 1112.3,2293.9 1112.3,2274.1 1112.8,2278.6 1112.8,2312.6 1113.3,2298.8 1113.3,2269.4 1113.8,2271.7 1113.8,2291.8 1114.3,2305.9 1114.3,2277.9 1114.8,2275.1 1114.8,2296.6 1115.3,2300.2 1115.3,2274.6 1115.8,2279.1 1115.8,2302.9 1116.3,2302.0 1116.3,2282.1 1116.8,2265.6 1116.8,2305.5 1117.3,2302.1 1117.3,2275.2 1117.8,2276.7 1117.8,2291.9 1118.3,2298.4 1118.3,2274.8 1118.8,2266.1 1118.8,2293.2 1119.3,2297.3 1119.3,2267.0 1119.8,2265.5 1119.8,2291.2 1120.3,2301.6 1120.3,2274.5 1120.8,2263.6 1120.8,2292.8 1121.3,2299.5 1121.3,2280.2 1121.8,2264.3 1121.8,2311.2 1122.3,2304.6 1122.3,2278.3 1122.8,2278.6 1122.8,2300.1 1123.3,2294.1 1123.3,2281.3 1123.8,2277.0 1123.8,2297.5 1124.3,2306.0 1124.3,2280.9 1124.8,2275.0 1124.8,2294.6 1125.3,2299.1 1125.3,2263.9 1125.8,2273.1 1125.8,2298.2 1126.3,2298.7 1126.3,2277.9 1126.8,2279.4 1126.8,2307.1 1127.3,2301.4 1127.3,2277.9 1127.8,2282.2 1127.8,2304.7 1128.3,2305.8 1128.3,2283.4 1128.8,2272.5 1128.8,2292.4 1129.3,2304.6 1129.3,2281.9 1129.8,2268.7 1129.8,2300.5 1130.3,2295.4 1130.3,2273.3 1130.8,2281.1 1130.8,2302.7 1131.3,2292.8 1131.3,2264.3 1131.8,2274.8 1131.8,2296.6 1132.3,2294.5 1132.3,2270.7 1132.8,2262.8 1132.8,2297.4 1133.3,2309.7 1133.3,2276.2 1133.8,2276.9 1133.8,2298.2 1134.3,2294.6 1134.3,2280.6 1134.8,2265.7 1134.8,2297.8 1135.3,2301.6 1135.3,2277.1 1135.8,2283.0 1135.8,2292.9 1136.3,2303.7 1136.3,2277.5 1136.8,2271.6 1136.8,2295.2 1137.3,2304.4 1137.3,2270.1 1137.8,2279.1 1137.8,2296.9 1138.3,2303.2 1138.3,2284.4 1138.8,2282.2 1138.8,2306.2 1139.3,2303.1 1139.3,2286.1 1139.8,2272.5 1139.8,2300.2 1140.3,2306.3 1140.3,2277.3 1140.8,2271.9 1140.8,2290.0 1141.3,2299.1 1141.3,2273.5 1141.8,2264.5 1141.8,2303.8 1142.3,2297.3 1142.3,2259.6 1142.8,2269.8 1142.8,2299.6 1143.3,2292.4 1143.3,2273.9 1143.8,2272.7 1143.8,2300.2 1144.3,2297.5 1144.3,2266.3 1144.8,2264.0 1144.8,2291.1 1145.3,2299.3 1145.3,2268.1 1145.8,2274.3 1145.8,2296.7 1146.3,2290.5 1146.3,2271.2 1146.8,2272.3 1146.8,2298.3 1147.3,2293.4 1147.3,2279.4 1147.8,2268.0 1147.8,2299.3 1148.3,2288.1 1148.3,2269.0 1148.8,2274.4 1148.8,2302.4 1149.3,2298.6 1149.3,2271.7 1149.8,2273.4 1149.8,2296.8 1150.3,2303.6 1150.3,2272.4 1150.8,2279.1 1150.8,2308.3 1151.3,2304.7 1151.3,2280.8 1151.8,2272.8 1151.8,2316.9 1152.3,2311.1 1152.3,2283.0 1152.8,2280.7 1152.8,2310.8 1153.3,2305.2 1153.3,2278.0 1153.8,2273.8 1153.8,2308.8 1154.3,2301.9 1154.3,2287.5 1154.8,2280.3 1154.8,2320.0 1155.3,2289.3 1155.3,2269.5 1155.8,2263.0 1155.8,2286.1 1156.3,2296.7 1156.3,2275.6 1156.8,2277.1 1156.8,2300.3 1157.3,2301.0 1157.3,2275.8 1157.8,2261.6 1157.8,2298.3 1158.3,2308.7 1158.3,2266.4 1158.8,2273.4 1158.8,2297.0 1159.3,2298.2 1159.3,2271.3 1159.8,2270.6 1159.8,2300.8 1160.3,2305.7 1160.3,2272.3 1160.8,2277.0 1160.8,2301.3 1161.3,2297.2 1161.3,2274.8 1161.8,2277.9 1161.8,2298.4 1162.3,2307.3 1162.3,2286.7 1162.8,2290.8 1162.8,2306.6 1163.3,2304.9 1163.3,2277.7 1163.8,2268.2 1163.8,2300.6 1164.3,2299.6 1164.3,2281.4 1164.8,2275.7 1164.8,2303.9 1165.3,2308.9 1165.3,2283.0 1165.8,2289.6 1165.8,2318.5 1166.3,2307.4 1166.3,2284.4 1166.8,2287.2 1166.8,2310.6 1167.3,2302.4 1167.3,2278.5 1167.8,2280.5 1167.8,2311.0 1168.3,2309.4 1168.3,2281.3 1168.8,2275.0 1168.8,2302.6 1169.3,2301.4 1169.3,2277.4 1169.8,2275.8 1169.8,2301.3 1170.3,2308.8 1170.3,2277.9 1170.8,2277.1 1170.8,2299.7 1171.3,2297.9 1171.3,2267.1 1171.8,2276.4 1171.8,2294.6 1172.3,2303.0 1172.3,2273.9 1172.8,2270.6 1172.8,2292.0 1173.3,2299.3 1173.3,2276.8 1173.8,2275.2 1173.8,2291.0 1174.3,2297.3 1174.3,2278.8 1174.8,2275.0 1174.8,2294.0 1175.3,2306.8 1175.3,2277.5 1175.8,2271.0 1175.8,2297.7 1176.3,2297.5 1176.3,2276.9 1176.8,2273.9 1176.8,2297.2 1177.3,2300.2 1177.3,2281.7 1177.8,2271.7 1177.8,2296.9 1178.3,2311.8 1178.3,2264.4 1178.8,2273.2 1178.8,2298.1 1179.3,2309.1 1179.3,2270.2 1179.8,2267.7 1179.8,2300.5 1180.3,2313.1 1180.3,2263.5 1180.8,2280.0 1180.8,2288.6 1181.3,2307.7 1181.3,2277.0 1181.8,2272.1 1181.8,2303.2 1182.3,2298.3 1182.3,2267.8 1182.8,2284.1 1182.8,2299.8 1183.3,2296.5 1183.3,2273.7 1183.8,2259.5 1183.8,2304.8 1184.3,2302.5 1184.3,2275.9 1184.8,2267.9 1184.8,2300.9 1185.3,2297.5 1185.3,2277.1 1185.8,2277.0 1185.8,2307.8 1186.3,2304.3 1186.3,2277.0 1186.8,2279.1 1186.8,2299.7 1187.3,2292.7 1187.3,2270.4 1187.8,2283.0 1187.8,2305.2 1188.3,2297.3 1188.3,2267.2 1188.8,2275.5 1188.8,2304.2 1189.3,2296.7 1189.3,2271.1 1189.8,2288.6 1189.8,2310.4 1190.3,2308.1 1190.3,2281.6 1190.8,2281.6 1190.8,2304.8 1191.3,2305.6 1191.3,2271.5 1191.8,2283.1 1191.8,2305.3 1192.3,2308.0 1192.3,2270.8 1192.8,2277.3 1192.8,2308.9 1193.3,2311.8 1193.3,2282.4 1193.8,2280.4 1193.8,2302.4 1194.3,2302.4 1194.3,2279.7 1194.8,2284.2 1194.8,2307.1 1195.3,2293.9 1195.3,2264.9 1195.8,2270.5 1195.8,2296.8 1196.3,2293.4 1196.3,2274.4 1196.8,2287.5 1196.8,2297.8 1197.3,2304.8 1197.3,2267.0 1197.8,2275.1 1197.8,2296.4 1198.3,2310.3 1198.3,2283.1 1198.8,2271.9 1198.8,2302.7 1199.3,2310.9 1199.3,2270.9 1199.8,2275.2 1199.8,2302.5 1200.3,2316.2 1200.3,2276.9 1200.8,2281.2 1200.8,2304.4 1201.3,2305.0 1201.3,2277.4 1201.8,2273.7 1201.8,2301.2 1202.3,2299.3 1202.3,2277.2 1202.8,2277.2 1202.8,2309.6 1203.3,2308.4 1203.3,2276.4 1203.8,2278.1 1203.8,2298.9 1204.3,2306.0 1204.3,2280.9 1204.8,2279.2 1204.8,2308.5 1205.3,2294.8 1205.3,2273.2 1205.8,2277.1 1205.8,2301.7 1206.3,2290.2 1206.3,2260.9 1206.8,2271.7 1206.8,2308.7 1207.3,2301.7 1207.3,2268.7 1207.8,2278.5 1207.8,2311.1 1208.3,2293.2 1208.3,2267.3 1208.8,2267.2 1208.8,2294.7 1209.3,2291.7 1209.3,2265.7 1209.8,2269.6 1209.8,2308.7 1210.3,2300.8 1210.3,2277.3 1210.8,2276.7 1210.8,2290.8 1211.3,2298.9 1211.3,2277.0 1211.8,2263.1 1211.8,2297.3 1212.3,2304.4 1212.3,2262.5 1212.8,2278.9 1212.8,2291.8 1213.3,2295.0 1213.3,2275.6 1213.8,2273.2 1213.8,2298.7 1214.3,2295.5 1214.3,2271.6 1214.8,2268.0 1214.8,2311.6 1215.3,2314.0 1215.3,2277.4 1215.8,2270.3 1215.8,2300.1 1216.3,2305.8 1216.3,2268.5 1216.8,2272.8 1216.8,2304.5 1217.3,2299.4 1217.3,2282.0 1217.8,2274.8 1217.8,2297.0 1218.3,2292.3 1218.3,2272.5 1218.8,2268.0 1218.8,2300.6 1219.3,2315.0 1219.3,2280.9 1219.8,2263.9 1219.8,2300.4 1220.3,2300.7 1220.3,2274.2 1220.8,2271.1 1220.8,2298.9 1221.3,2293.1 1221.3,2274.2 1221.8,2273.7 1221.8,2301.2 1222.3,2301.4 1222.3,2269.5 1222.8,2272.1 1222.8,2299.4 1223.3,2296.3 1223.3,2272.5 1223.8,2274.0 1223.8,2294.0 1224.3,2309.5 1224.3,2254.8 1224.8,2278.5 1224.8,2294.9 1225.3,2306.4 1225.3,2276.9 1225.8,2288.8 1225.8,2300.2 1226.3,2303.1 1226.3,2282.1 1226.8,2272.7 1226.8,2299.1 1227.3,2291.8 1227.3,2279.9 1227.8,2261.9 1227.8,2310.8 1228.3,2302.1 1228.3,2279.0 1228.8,2276.2 1228.8,2294.4 1229.3,2297.4 1229.3,2276.5 1229.8,2275.2 1229.8,2304.9 1230.3,2305.3 1230.3,2281.3 1230.8,2270.4 1230.8,2302.2 1231.3,2302.7 1231.3,2274.8 1231.8,2270.3 1231.8,2292.2 1232.3,2290.6 1232.3,2266.5 1232.8,2273.9 1232.8,2292.1 1233.3,2302.1 1233.3,2256.0 1233.8,2275.8 1233.8,2300.5 1234.3,2302.5 1234.3,2278.6 1234.8,2270.0 1234.8,2292.9 1235.3,2286.7 1235.3,2268.5 1235.8,2271.0 1235.8,2306.8 1236.3,2292.6 1236.3,2279.9 1236.8,2280.5 1236.8,2299.0 1237.3,2301.3 1237.3,2271.5 1237.8,2272.9 1237.8,2291.2 1238.3,2304.3 1238.3,2267.9 1238.8,2274.5 1238.8,2302.3 1239.3,2303.7 1239.3,2269.3 1239.8,2273.7 1239.8,2304.7 1240.3,2298.9 1240.3,2276.8 1240.8,2268.7 1240.8,2298.1 1241.3,2289.9 1241.3,2269.7 1241.8,2278.8 1241.8,2294.5 1242.3,2299.7 1242.3,2280.1 1242.8,2273.8 1242.8,2295.7 1243.3,2292.4 1243.3,2266.0 1243.8,2280.2 1243.8,2308.4 1244.3,2284.9 1244.3,2273.8 1244.8,2268.4 1244.8,2297.6 1245.3,2292.4 1245.3,2281.6 1245.8,2278.1 1245.8,2304.9 1246.3,2292.1 1246.3,2272.8 1246.8,2267.2 1246.8,2304.0 1247.3,2312.1 1247.3,2268.2 1247.8,2279.0 1247.8,2304.2 1248.3,2298.6 1248.3,2276.1 1248.8,2271.5 1248.8,2292.7 1249.3,2304.3 1249.3,2285.5 1249.8,2276.5 1249.8,2293.2 1250.3,2288.7 1250.3,2261.1 1250.8,2275.3 1250.8,2314.8 1251.3,2292.3 1251.3,2271.0 1251.8,2263.4 1251.8,2304.4 1252.3,2303.0 1252.3,2279.2 1252.8,2264.2 1252.8,2293.9 1253.3,2299.9 1253.3,2273.0 1253.8,2277.8 1253.8,2302.3 1254.3,2299.0 1254.3,2263.8 1254.8,2271.3 1254.8,2303.3 1255.3,2299.2 1255.3,2283.5 1255.8,2281.5 1255.8,2298.4 1256.3,2301.4 1256.3,2276.8 1256.8,2277.0 1256.8,2288.5 1257.3,2313.2 1257.3,2274.6 1257.8,2267.4 1257.8,2294.5 1258.3,2298.4 1258.3,2272.4 1258.8,2272.5 1258.8,2299.3 1259.3,2299.3 1259.3,2275.5 1259.8,2271.7 1259.8,2294.0 1260.3,2294.4 1260.3,2273.1 1260.8,2278.1 1260.8,2302.3 1261.3,2302.6 1261.3,2278.5 1261.8,2267.0 1261.8,2299.8 1262.3,2304.6 1262.3,2279.8 1262.8,2286.3 1262.8,2301.7 1263.3,2310.6 1263.3,2275.9 1263.8,2269.2 1263.8,2289.4 1264.3,2319.6 1264.3,2273.0 1264.8,2275.4 1264.8,2296.6 1265.3,2303.5 1265.3,2274.4 1265.8,2271.9 1265.8,2299.7 1266.3,2295.9 1266.3,2272.0 1266.8,2269.2 1266.8,2296.1 1267.3,2299.1 1267.3,2267.3 1267.8,2293.6 1267.8,2304.7 1268.3,2307.0 1268.3,2277.9 1268.8,2284.5 1268.8,2295.2 1269.3,2296.4 1269.3,2279.4 1269.8,2276.6 1269.8,2310.0 1270.3,2306.1 1270.3,2279.3 1270.8,2277.0 1270.8,2299.1 1271.3,2304.4 1271.3,2275.1 1271.8,2271.4 1271.8,2303.9 1272.3,2310.1 1272.3,2279.2 1272.8,2270.9 1272.8,2297.8 1273.3,2303.9 1273.3,2272.8 1273.8,2276.0 1273.8,2299.8 1274.3,2298.2 1274.3,2270.0 1274.8,2266.3 1274.8,2296.7 1275.3,2286.3 1275.3,2261.2 1275.8,2282.8 1275.8,2297.0 1276.3,2296.8 1276.3,2261.1 1276.8,2269.6 1276.8,2298.3 1277.3,2290.0 1277.3,2275.5 1277.8,2265.5 1277.8,2301.4 1278.3,2301.8 1278.3,2281.3 1278.8,2275.6 1278.8,2292.6 1279.3,2299.8 1279.3,2266.7 1279.8,2279.3 1279.8,2300.1 1280.3,2303.3 1280.3,2271.5 1280.8,2278.5 1280.8,2303.7 1281.3,2302.4 1281.3,2266.5 1281.8,2279.0 1281.8,2310.2 1282.3,2304.9 1282.3,2281.3 1282.8,2282.4 1282.8,2302.9 1283.3,2302.4 1283.3,2279.4 1283.8,2275.8 1283.8,2309.8 1284.3,2306.5 1284.3,2272.4 1284.8,2283.7 1284.8,2298.7 1285.3,2308.7 1285.3,2260.8 1285.8,2281.4 1285.8,2296.7 1286.3,2310.3 1286.3,2284.7 1286.8,2284.6 1286.8,2307.0 1287.3,2301.4 1287.3,2276.9 1287.8,2269.0 1287.8,2306.2 1288.3,2299.4 1288.3,2281.5 1288.8,2274.5 1288.8,2300.3 1289.3,2299.0 1289.3,2281.1 1289.8,2273.1 1289.8,2295.5 1290.3,2293.5 1290.3,2273.0 1290.8,2280.6 1290.8,2298.4 1291.3,2291.7 1291.3,2274.8 1291.8,2276.7 1291.8,2305.2 1292.3,2298.2 1292.3,2278.2 1292.8,2274.7 1292.8,2315.6 1293.3,2300.4 1293.3,2274.2 1293.8,2277.1 1293.8,2301.9 1294.3,2301.9 1294.3,2272.6 1294.8,2272.2 1294.8,2292.2 1295.3,2305.9 1295.3,2271.5 1295.8,2282.3 1295.8,2303.2 1296.3,2299.9 1296.3,2273.9 1296.8,2279.8 1296.8,2294.1 1297.3,2300.1 1297.3,2277.6 1297.8,2268.2 1297.8,2299.2 1298.3,2303.9 1298.3,2274.2 1298.8,2285.2 1298.8,2298.9 1299.3,2303.8 1299.3,2281.8 1299.8,2274.9 1299.8,2300.2 1300.3,2298.9 1300.3,2266.7 1300.8,2268.0 1300.8,2297.5 1301.3,2291.2 1301.3,2277.1 1301.8,2281.5 1301.8,2309.8 1302.3,2313.1 1302.3,2275.5 1302.8,2281.7 1302.8,2310.5 1303.3,2295.5 1303.3,2275.7 1303.8,2287.9 1303.8,2300.1 1304.3,2290.8 1304.3,2271.9 1304.8,2276.7 1304.8,2299.3 1305.3,2299.5 1305.3,2282.3 1305.8,2266.2 1305.8,2299.7 1306.3,2301.3 1306.3,2279.8 1306.8,2268.2 1306.8,2310.5 1307.3,2304.7 1307.3,2253.5 1307.8,2272.0 1307.8,2309.0 1308.3,2296.3 1308.3,2260.0 1308.8,2281.2 1308.8,2299.1 1309.3,2300.7 1309.3,2268.8 1309.8,2281.2 1309.8,2303.2 1310.3,2302.9 1310.3,2274.3 1310.8,2280.1 1310.8,2293.9 1311.3,2304.2 1311.3,2267.0 1311.8,2267.6 1311.8,2292.0 1312.3,2297.8 1312.3,2278.7 1312.8,2268.0 1312.8,2305.5 1313.3,2303.6 1313.3,2279.0 1313.8,2270.0 1313.8,2302.4 1314.3,2306.3 1314.3,2278.5 1314.8,2265.2 1314.8,2303.9 1315.3,2309.2 1315.3,2276.0 1315.8,2275.2 1315.8,2296.9 1316.3,2302.3 1316.3,2263.8 1316.8,2269.6 1316.8,2305.1 1317.3,2307.2 1317.3,2276.0 1317.8,2278.7 1317.8,2296.7 1318.3,2313.7 1318.3,2268.6 1318.8,2265.9 1318.8,2302.6 1319.3,2308.6 1319.3,2274.0 1319.8,2277.0 1319.8,2311.9 1320.3,2303.3 1320.3,2273.1 1320.8,2277.2 1320.8,2290.5 1321.3,2302.0 1321.3,2275.2 1321.8,2269.5 1321.8,2307.2 1322.3,2304.8 1322.3,2269.5 1322.8,2282.2 1322.8,2304.7 1323.3,2299.8 1323.3,2269.7 1323.8,2282.7 1323.8,2299.1 1324.3,2310.9 1324.3,2257.0 1324.8,2260.9 1324.8,2301.1 1325.3,2292.7 1325.3,2266.2 1325.8,2279.1 1325.8,2292.8 1326.3,2296.0 1326.3,2273.1 1326.8,2281.6 1326.8,2302.3 1327.3,2299.8 1327.3,2278.6 1327.8,2263.3 1327.8,2300.9 1328.3,2295.5 1328.3,2279.9 1328.8,2279.3 1328.8,2302.8 1329.3,2304.4 1329.3,2273.9 1329.8,2276.0 1329.8,2291.7 1330.3,2301.1 1330.3,2282.6 1330.8,2261.9 1330.8,2308.7 1331.3,2315.7 1331.3,2271.2 1331.8,2270.1 1331.8,2301.9 1332.3,2288.9 1332.3,2261.7 1332.8,2266.7 1332.8,2299.9 1333.3,2304.1 1333.3,2269.4 1333.8,2262.3 1333.8,2289.8 1334.3,2288.9 1334.3,2267.7 1334.8,2270.0 1334.8,2290.9 1335.3,2298.8 1335.3,2284.5 1335.8,2271.5 1335.8,2297.3 1336.3,2301.3 1336.3,2270.3 1336.8,2271.5 1336.8,2296.2 1337.3,2304.4 1337.3,2275.3 1337.8,2276.1 1337.8,2298.5 1338.3,2304.7 1338.3,2285.3 1338.8,2266.3 1338.8,2306.3 1339.3,2302.5 1339.3,2283.4 1339.8,2276.3 1339.8,2304.8 1340.3,2300.8 1340.3,2279.9 1340.8,2272.0 1340.8,2302.4 1341.3,2307.2 1341.3,2278.7 1341.8,2284.6 1341.8,2307.3 1342.3,2308.9 1342.3,2277.0 1342.8,2280.3 1342.8,2301.9 1343.3,2306.1 1343.3,2280.8 1343.8,2280.2 1343.8,2297.3 1344.3,2299.4 1344.3,2281.7 1344.8,2294.8 1344.8,2318.8 1345.3,2300.9 1345.3,2281.5 1345.8,2280.4 1345.8,2309.8 1346.3,2301.8 1346.3,2286.8 1346.8,2284.2 1346.8,2306.4 1347.3,2310.5 1347.3,2277.3 1347.8,2284.5 1347.8,2294.4 1348.3,2288.8 1348.3,2272.7 1348.8,2270.3 1348.8,2298.1 1349.3,2303.2 1349.3,2272.7 1349.8,2270.7 1349.8,2296.1 1350.3,2296.0 1350.3,2278.5 1350.8,2268.9 1350.8,2298.3 1351.3,2295.2 1351.3,2272.0 1351.8,2274.1 1351.8,2302.5 1352.3,2287.9 1352.3,2275.1 1352.8,2271.5 1352.8,2303.9 1353.3,2315.0 1353.3,2280.7 1353.8,2270.3 1353.8,2291.3 1354.3,2297.2 1354.3,2264.6 1354.8,2275.8 1354.8,2299.1 1355.3,2297.4 1355.3,2273.1 1355.8,2285.3 1355.8,2302.9 1356.3,2293.8 1356.3,2281.3 1356.8,2275.5 1356.8,2309.6 1357.3,2303.7 1357.3,2287.9 1357.8,2291.1 1357.8,2303.6 1358.3,2299.4 1358.3,2279.9 1358.8,2279.0 1358.8,2305.5 1359.3,2301.8 1359.3,2281.2 1359.8,2276.7 1359.8,2306.6 1360.3,2305.4 1360.3,2276.1 1360.8,2269.9 1360.8,2300.7 1361.3,2308.6 1361.3,2275.2 1361.8,2279.8 1361.8,2309.9 1362.3,2308.2 1362.3,2287.7 1362.8,2280.1 1362.8,2306.8 1363.3,2298.5 1363.3,2275.0 1363.8,2281.2 1363.8,2293.4 1364.3,2291.7 1364.3,2274.5 1364.8,2264.9 1364.8,2297.9 1365.3,2295.2 1365.3,2261.2 1365.8,2274.4 1365.8,2300.4 1366.3,2305.9 1366.3,2262.1 1366.8,2266.0 1366.8,2296.5 1367.3,2295.3 1367.3,2268.0 1367.8,2273.4 1367.8,2296.3 1368.3,2293.8 1368.3,2273.2 1368.8,2268.9 1368.8,2289.1 1369.3,2302.6 1369.3,2276.9 1369.8,2269.5 1369.8,2294.6 1370.3,2301.2 1370.3,2255.9 1370.8,2273.7 1370.8,2302.5 1371.3,2290.8 1371.3,2272.2 1371.8,2275.0 1371.8,2309.0 1372.3,2296.6 1372.3,2275.2 1372.8,2263.9 1372.8,2300.0 1373.3,2291.0 1373.3,2277.8 1373.8,2280.1 1373.8,2300.5 1374.3,2295.7 1374.3,2270.4 1374.8,2281.0 1374.8,2297.5 1375.3,2301.1 1375.3,2286.0 1375.8,2277.2 1375.8,2304.1 1376.3,2306.5 1376.3,2276.7 1376.8,2276.5 1376.8,2300.4 1377.3,2285.7 1377.3,2273.0 1377.8,2273.3 1377.8,2286.2 1378.3,2291.9 1378.3,2273.2 1378.8,2277.2 1378.8,2296.4 1379.3,2295.7 1379.3,2271.0 1379.8,2276.3 1379.8,2291.5 1380.3,2295.6 1380.3,2274.8 1380.8,2276.3 1380.8,2300.0 1381.3,2295.2 1381.3,2276.3 1381.8,2278.3 1381.8,2298.5 1382.3,2299.5 1382.3,2271.0 1382.8,2269.6 1382.8,2317.5 1383.3,2297.8 1383.3,2287.0 1383.8,2272.1 1383.8,2309.2 1384.3,2296.7 1384.3,2275.0 1384.8,2278.2 1384.8,2305.3 1385.3,2318.6 1385.3,2268.1 1385.8,2284.1 1385.8,2301.3 1386.3,2307.6 1386.3,2282.0 1386.8,2270.6 1386.8,2309.5 1387.3,2319.0 1387.3,2263.7 1387.8,2278.3 1387.8,2300.7 1388.3,2312.4 1388.3,2268.1 1388.8,2272.6 1388.8,2290.3 1389.3,2293.7 1389.3,2271.1 1389.8,2280.4 1389.8,2297.1 1390.3,2299.1 1390.3,2277.5 1390.8,2274.4 1390.8,2315.2 1391.3,2305.9 1391.3,2268.8 1391.8,2285.9 1391.8,2306.7 1392.3,2303.4 1392.3,2272.1 1392.8,2278.8 1392.8,2297.0 1393.3,2308.8 1393.3,2271.8 1393.8,2274.6 1393.8,2300.8 1394.3,2291.8 1394.3,2268.1 1394.8,2271.0 1394.8,2298.3 1395.3,2296.4 1395.3,2280.1 1395.8,2269.1 1395.8,2296.5 1396.3,2306.1 1396.3,2281.2 1396.8,2272.0 1396.8,2299.7 1397.3,2304.6 1397.3,2262.2 1397.8,2273.9 1397.8,2293.4 1398.3,2292.7 1398.3,2273.7 1398.8,2272.4 1398.8,2299.3 1399.3,2303.2 1399.3,2275.2 1399.8,2264.9 1399.8,2296.8 1400.3,2290.1 1400.3,2271.9 1400.8,2273.5 1400.8,2289.5 1401.3,2307.9 1401.3,2265.3 1401.8,2278.2 1401.8,2297.5 1402.3,2302.8 1402.3,2276.9 1402.8,2262.4 1402.8,2306.0 1403.3,2306.2 1403.3,2283.7 1403.8,2280.5 1403.8,2297.4 1404.3,2295.9 1404.3,2276.5 1404.8,2279.3 1404.8,2303.3 1405.3,2306.5 1405.3,2281.9 1405.8,2276.4 1405.8,2309.0 1406.3,2318.4 1406.3,2280.7 1406.8,2284.2 1406.8,2307.9 1407.3,2307.0 1407.3,2280.1 1407.8,2280.2 1407.8,2313.0 1408.3,2310.4 1408.3,2278.3 1408.8,2266.3 1408.8,2322.0 1409.3,2304.4 1409.3,2276.2 1409.8,2278.5 1409.8,2303.6 1410.3,2310.1 1410.3,2282.0 1410.8,2276.0 1410.8,2300.6 1411.3,2300.6 1411.3,2273.7 1411.8,2282.0 1411.8,2302.1 1412.3,2299.4 1412.3,2274.9 1412.8,2275.0 1412.8,2304.5 1413.3,2305.0 1413.3,2289.9 1413.8,2291.4 1413.8,2318.2 1414.3,2308.6 1414.3,2280.4 1414.8,2281.6 1414.8,2293.4 1415.3,2313.6 1415.3,2287.5 1415.8,2286.0 1415.8,2306.2 1416.3,2300.3 1416.3,2271.3 1416.8,2268.0 1416.8,2299.6 1417.3,2308.0 1417.3,2283.9 1417.8,2281.6 1417.8,2292.3 1418.3,2299.9 1418.3,2280.7 1418.8,2282.3 1418.8,2309.7 1419.3,2304.8 1419.3,2278.3 1419.8,2283.5 1419.8,2309.9 1420.3,2312.3 1420.3,2271.7 1420.8,2272.0 1420.8,2325.4 1421.3,2295.2 1421.3,2279.9 1421.8,2278.8 1421.8,2303.6 1422.3,2296.4 1422.3,2267.7 1422.8,2281.7 1422.8,2297.1 1423.3,2297.1 1423.3,2271.4 1423.8,2273.6 1423.8,2307.4 1424.3,2298.4 1424.3,2278.2 1424.8,2261.6 1424.8,2298.7 1425.3,2304.8 1425.3,2285.2 1425.8,2273.6 1425.8,2300.3 1426.3,2297.4 1426.3,2279.7 1426.8,2284.4 1426.8,2310.0 1427.3,2306.5 1427.3,2285.1 1427.8,2273.0 1427.8,2311.9 1428.3,2300.0 1428.3,2273.1 1428.8,2282.4 1428.8,2304.1 1429.3,2305.5 1429.3,2277.9 1429.8,2286.7 1429.8,2303.4 1430.3,2309.8 1430.3,2284.9 1430.8,2279.8 1430.8,2294.2 1431.3,2317.7 1431.3,2280.4 1431.8,2284.2 1431.8,2306.0 1432.3,2303.5 1432.3,2288.3 1432.8,2274.2 1432.8,2293.3 1433.3,2309.6 1433.3,2276.6 1433.8,2266.2 1433.8,2315.4 1434.3,2301.4 1434.3,2262.6 1434.8,2278.0 1434.8,2310.3 1435.3,2287.1 1435.3,2271.0 1435.8,2277.4 1435.8,2293.8 1436.3,2296.6 1436.3,2267.5 1436.8,2277.5 1436.8,2296.5 1437.3,2312.0 1437.3,2266.8 1437.8,2283.1 1437.8,2300.4 1438.3,2300.1 1438.3,2278.2 1438.8,2271.3 1438.8,2295.8 1439.3,2297.2 1439.3,2277.4 1439.8,2274.1 1439.8,2302.1 1440.3,2304.6 1440.3,2280.5 1440.8,2278.4 1440.8,2303.2 1441.3,2309.3 1441.3,2283.8 1441.8,2270.3 1441.8,2308.9 1442.3,2301.4 1442.3,2274.6 1442.8,2282.2 1442.8,2294.5 1443.3,2308.4 1443.3,2287.1 1443.8,2275.2 1443.8,2302.8 1444.3,2302.9 1444.3,2277.2 1444.8,2275.4 1444.8,2300.5 1445.3,2297.7 1445.3,2269.6 1445.8,2278.4 1445.8,2296.2 1446.3,2304.3 1446.3,2276.5 1446.8,2275.5 1446.8,2292.0 1447.3,2292.8 1447.3,2281.3 1447.8,2275.7 1447.8,2296.9 1448.3,2296.5 1448.3,2277.7 1448.8,2278.4 1448.8,2310.0 1449.3,2303.1 1449.3,2270.8 1449.8,2275.0 1449.8,2293.0 1450.3,2303.4 1450.3,2276.0 1450.8,2276.8 1450.8,2297.7 1451.3,2302.9 1451.3,2276.7 1451.8,2275.6 1451.8,2308.2 1452.3,2310.1 1452.3,2278.9 1452.8,2276.0 1452.8,2297.7 1453.3,2298.9 1453.3,2272.8 1453.8,2266.4 1453.8,2296.8 1454.3,2301.5 1454.3,2272.3 1454.8,2270.3 1454.8,2308.2 1455.3,2304.7 1455.3,2274.2 1455.8,2271.8 1455.8,2298.5 1456.3,2289.5 1456.3,2273.5 1456.8,2275.3 1456.8,2293.1 1457.3,2292.7 1457.3,2266.0 1457.8,2274.6 1457.8,2302.2 1458.3,2296.6 1458.3,2275.6 1458.8,2265.0 1458.8,2291.0 1459.3,2292.3 1459.3,2278.3 1459.8,2271.6 1459.8,2298.4 1460.3,2299.2 1460.3,2280.2 1460.8,2275.6 1460.8,2305.3 1461.3,2295.3 1461.3,2275.9 1461.8,2275.2 1461.8,2308.1 1462.3,2298.3 1462.3,2263.6 1462.8,2270.3 1462.8,2304.2 1463.3,2298.9 1463.3,2278.4 1463.8,2270.6 1463.8,2303.4 1464.3,2300.8 1464.3,2274.5 1464.8,2266.3 1464.8,2287.6 1465.3,2296.0 1465.3,2277.8 1465.8,2270.9 1465.8,2294.9 1466.3,2305.4 1466.3,2258.9 1466.8,2270.4 1466.8,2308.6 1467.3,2306.6 1467.3,2276.5 1467.8,2283.3 1467.8,2300.5 1468.3,2299.6 1468.3,2276.0 1468.8,2270.6 1468.8,2291.9 1469.3,2298.1 1469.3,2273.3 1469.8,2281.5 1469.8,2293.8 1470.3,2296.9 1470.3,2276.8 1470.8,2279.2 1470.8,2304.9 1471.3,2304.4 1471.3,2277.0 1471.8,2276.8 1471.8,2306.4 1472.3,2295.6 1472.3,2278.6 1472.8,2260.6 1472.8,2303.3 1473.3,2295.5 1473.3,2268.3 1473.8,2272.3 1473.8,2304.0 1474.3,2293.6 1474.3,2275.0 1474.8,2262.1 1474.8,2293.4 1475.3,2294.0 1475.3,2268.3 1475.8,2266.3 1475.8,2298.0 1476.3,2312.8 1476.3,2275.9 1476.8,2274.9 1476.8,2294.6 1477.3,2296.7 1477.3,2258.1 1477.8,2271.4 1477.8,2292.6 1478.3,2296.3 1478.3,2271.2 1478.8,2268.5 1478.8,2297.8 1479.3,2297.0 1479.3,2273.0 1479.8,2262.6 1479.8,2296.1 1480.3,2316.7 1480.3,2278.8 1480.8,2275.2 1480.8,2305.3 1481.3,2301.7 1481.3,2276.2 1481.8,2268.5 1481.8,2308.5 1482.3,2296.2 1482.3,2269.7 1482.8,2267.3 1482.8,2307.8 1483.3,2308.3 1483.3,2269.4 1483.8,2265.5 1483.8,2296.2 1484.3,2292.5 1484.3,2271.6 1484.8,2273.3 1484.8,2298.0 1485.3,2298.5 1485.3,2273.1 1485.8,2269.3 1485.8,2293.3 1486.3,2300.9 1486.3,2276.7 1486.8,2276.9 1486.8,2299.1 1487.3,2306.1 1487.3,2280.2 1487.8,2278.1 1487.8,2310.2 1488.3,2295.2 1488.3,2276.0 1488.8,2279.2 1488.8,2308.0 1489.3,2299.9 1489.3,2267.5 1489.8,2283.7 1489.8,2299.6 1490.3,2298.8 1490.3,2275.5 1490.8,2270.4 1490.8,2289.1 1491.3,2287.3 1491.3,2276.8 1491.8,2276.0 1491.8,2299.9 1492.3,2295.2 1492.3,2279.7 1492.8,2265.4 1492.8,2306.8 1493.3,2302.3 1493.3,2281.7 1493.8,2254.5 1493.8,2299.3 1494.3,2296.3 1494.3,2270.1 1494.8,2276.0 1494.8,2297.0 1495.3,2287.4 1495.3,2265.0 1495.8,2267.7 1495.8,2308.2 1496.3,2287.7 1496.3,2277.2 1496.8,2266.6 1496.8,2295.0 1497.3,2301.8 1497.3,2270.3 1497.8,2273.7 1497.8,2295.5 1498.3,2298.3 1498.3,2271.1 1498.8,2276.4 1498.8,2304.2 1499.3,2304.3 1499.3,2269.7 1499.8,2285.1 1499.8,2303.3 1500.3,2292.5 1500.3,2277.9 1500.8,2275.0 1500.8,2301.9 1501.3,2306.4 1501.3,2281.4 1501.8,2284.9 1501.8,2297.7 1502.3,2300.5 1502.3,2284.3 1502.8,2277.3 1502.8,2292.9 1503.3,2296.2 1503.3,2280.1 1503.8,2268.2 1503.8,2298.6 1504.3,2317.3 1504.3,2281.0 1504.8,2262.6 1504.8,2319.0 1505.3,2312.1 1505.3,2274.4 1505.8,2267.9 1505.8,2302.0 1506.3,2292.4 1506.3,2265.3 1506.8,2279.1 1506.8,2308.0 1507.3,2299.9 1507.3,2268.8 1507.8,2262.1 1507.8,2306.7 1508.3,2298.7 1508.3,2274.6 1508.8,2284.7 1508.8,2303.6 1509.3,2289.2 1509.3,2274.8 1509.8,2279.9 1509.8,2302.3 1510.3,2301.0 1510.3,2275.8 1510.8,2268.2 1510.8,2295.8 1511.3,2296.2 1511.3,2281.3 1511.8,2269.5 1511.8,2295.1 1512.3,2294.5 1512.3,2279.2 1512.8,2270.4 1512.8,2293.2 1513.3,2295.3 1513.3,2279.8 1513.8,2266.5 1513.8,2292.2 1514.3,2298.5 1514.3,2267.0 1514.8,2266.0 1514.8,2299.2 1515.3,2298.9 1515.3,2278.8 1515.8,2277.7 1515.8,2294.2 1516.3,2298.6 1516.3,2278.6 1516.8,2261.6 1516.8,2294.2 1517.3,2298.8 1517.3,2260.5 1517.8,2288.5 1517.8,2305.5 1518.3,2303.4 1518.3,2269.8 1518.8,2267.7 1518.8,2309.0 1519.3,2300.3 1519.3,2277.8 1519.8,2264.8 1519.8,2298.2 1520.3,2285.3 1520.3,2278.8 1520.8,2272.2 1520.8,2302.6 1521.3,2302.9 1521.3,2272.1 1521.8,2281.3 1521.8,2295.5 1522.3,2299.1 1522.3,2278.5 1522.8,2274.0 1522.8,2294.1 1523.3,2304.5 1523.3,2272.1 1523.8,2272.2 1523.8,2295.0 1524.3,2297.6 1524.3,2268.8 1524.8,2274.5 1524.8,2298.1 1525.3,2316.2 1525.3,2285.7 1525.8,2284.9 1525.8,2296.9 1526.3,2296.6 1526.3,2271.7 1526.8,2271.5 1526.8,2310.4 1527.3,2302.7 1527.3,2280.1 1527.8,2283.7 1527.8,2302.4 1528.3,2296.7 1528.3,2281.2 1528.8,2281.4 1528.8,2306.6 1529.3,2304.3 1529.3,2282.5 1529.8,2273.1 1529.8,2293.9 1530.3,2308.5 1530.3,2268.5 1530.8,2277.1 1530.8,2297.2 1531.3,2293.5 1531.3,2274.1 1531.8,2282.6 1531.8,2299.1 1532.3,2296.1 1532.3,2271.9 1532.8,2272.9 1532.8,2305.0 1533.3,2291.1 1533.3,2275.4 1533.8,2278.1 1533.8,2310.2 1534.3,2297.5 1534.3,2273.5 1534.8,2270.2 1534.8,2290.1 1535.3,2296.8 1535.3,2270.5 1535.8,2268.0 1535.8,2305.3 1536.3,2294.9 1536.3,2273.0 1536.8,2273.7 1536.8,2297.7 1537.3,2295.5 1537.3,2273.2 1537.8,2275.4 1537.8,2291.0 1538.3,2316.8 1538.3,2276.8 1538.8,2276.8 1538.8,2301.4 1539.3,2303.4 1539.3,2284.6 1539.8,2275.8 1539.8,2303.6 1540.3,2309.7 1540.3,2285.2 1540.8,2280.1 1540.8,2307.4 1541.3,2292.8 1541.3,2280.7 1541.8,2275.8 1541.8,2303.4 1542.3,2295.5 1542.3,2274.1 1542.8,2278.6 1542.8,2295.0 1543.3,2293.3 1543.3,2270.4 1543.8,2270.6 1543.8,2297.0 1544.3,2291.8 1544.3,2278.3 1544.8,2275.0 1544.8,2293.7 1545.3,2298.9 1545.3,2271.6 1545.8,2274.4 1545.8,2300.5 1546.3,2294.5 1546.3,2273.0 1546.8,2266.6 1546.8,2290.2 1547.3,2287.0 1547.3,2258.8 1547.8,2272.0 1547.8,2297.3 1548.3,2287.4 1548.3,2268.9 1548.8,2273.8 1548.8,2302.1 1549.3,2307.9 1549.3,2273.4 1549.8,2270.5 1549.8,2288.6 1550.3,2289.1 1550.3,2270.4 1550.8,2268.5 1550.8,2288.8 1551.3,2295.9 1551.3,2281.7 1551.8,2268.9 1551.8,2297.2 1552.3,2293.0 1552.3,2268.4 1552.8,2270.5 1552.8,2302.2 1553.3,2300.8 1553.3,2284.1 1553.8,2276.1 1553.8,2301.8 1554.3,2307.5 1554.3,2272.9 1554.8,2269.5 1554.8,2298.7 1555.3,2291.9 1555.3,2274.9 1555.8,2271.4 1555.8,2300.1 1556.3,2292.9 1556.3,2270.3 1556.8,2273.8 1556.8,2306.3 1557.3,2301.2 1557.3,2271.9 1557.8,2272.0 1557.8,2299.9 1558.3,2291.4 1558.3,2271.8 1558.8,2273.5 1558.8,2296.2 1559.3,2303.7 1559.3,2272.3 1559.8,2277.0 1559.8,2300.6 1560.3,2307.0 1560.3,2267.5 1560.8,2275.4 1560.8,2301.6 1561.3,2300.8 1561.3,2275.4 1561.8,2280.9 1561.8,2304.4 1562.3,2315.4 1562.3,2279.8 1562.8,2279.8 1562.8,2301.0 1563.3,2295.7 1563.3,2278.8 1563.8,2282.6 1563.8,2298.7 1564.3,2305.5 1564.3,2277.3 1564.8,2263.5 1564.8,2305.0 1565.3,2307.8 1565.3,2274.0 1565.8,2267.2 1565.8,2289.1 1566.3,2293.3 1566.3,2265.0 1566.8,2269.3 1566.8,2303.3 1567.3,2305.4 1567.3,2270.4 1567.8,2274.7 1567.8,2299.3 1568.3,2302.2 1568.3,2270.6 1568.8,2285.1 1568.8,2299.5 1569.3,2305.6 1569.3,2284.4 1569.8,2266.7 1569.8,2299.5 1570.3,2299.9 1570.3,2271.9 1570.8,2279.0 1570.8,2303.9 1571.3,2306.2 1571.3,2287.9 1571.8,2267.9 1571.8,2303.9 1572.3,2315.7 1572.3,2264.6 1572.8,2277.8 1572.8,2301.7 1573.3,2303.5 1573.3,2266.2 1573.8,2272.2 1573.8,2301.1 1574.3,2302.7 1574.3,2260.7 1574.8,2267.2 1574.8,2295.2 1575.3,2304.9 1575.3,2282.5 1575.8,2281.8 1575.8,2305.8 1576.3,2310.2 1576.3,2263.9 1576.8,2279.7 1576.8,2301.4 1577.3,2300.4 1577.3,2273.7 1577.8,2271.5 1577.8,2316.5 1578.3,2296.5 1578.3,2275.4 1578.8,2268.9 1578.8,2300.4 1579.3,2301.3 1579.3,2267.5 1579.8,2277.0 1579.8,2289.7 1580.3,2303.2 1580.3,2276.7 1580.8,2272.2 1580.8,2296.9 1581.3,2298.6 1581.3,2264.5 1581.8,2274.3 1581.8,2296.2 1582.3,2310.5 1582.3,2280.4 1582.8,2272.2 1582.8,2298.3 1583.3,2296.5 1583.3,2271.6 1583.8,2276.8 1583.8,2293.8 1584.3,2300.6 1584.3,2262.6 1584.8,2267.0 1584.8,2300.0 1585.3,2290.7 1585.3,2275.9 1585.8,2277.7 1585.8,2296.6 1586.3,2299.5 1586.3,2282.0 1586.8,2273.9 1586.8,2301.3 1587.3,2297.2 1587.3,2274.1 1587.8,2275.0 1587.8,2292.9 1588.3,2306.7 1588.3,2286.2 1588.8,2276.2 1588.8,2310.6 1589.3,2304.7 1589.3,2292.0 1589.8,2274.7 1589.8,2301.9 1590.3,2298.6 1590.3,2275.6 1590.8,2288.7 1590.8,2312.4 1591.3,2291.2 1591.3,2271.9 1591.8,2276.1 1591.8,2302.5 1592.3,2307.4 1592.3,2271.7 1592.8,2262.6 1592.8,2291.3 1593.3,2290.6 1593.3,2267.4 1593.8,2264.7 1593.8,2302.0 1594.3,2299.5 1594.3,2271.5 1594.8,2268.7 1594.8,2285.1 1595.3,2295.0 1595.3,2276.3 1595.8,2262.4 1595.8,2295.2 1596.3,2298.0 1596.3,2282.2 1596.8,2271.1 1596.8,2290.7 1597.3,2307.6 1597.3,2268.4 1597.8,2278.9 1597.8,2301.0 1598.3,2301.8 1598.3,2267.9 1598.8,2282.0 1598.8,2302.7 1599.3,2292.2 1599.3,2274.9 1599.8,2273.7 1599.8,2303.5 1600.3,2297.5 1600.3,2276.8 1600.8,2273.0 1600.8,2299.2 1601.3,2305.2 1601.3,2275.3 1601.8,2271.8 1601.8,2295.6 1602.3,2294.0 1602.3,2271.6 1602.8,2277.4 1602.8,2292.7 1603.3,2306.2 1603.3,2261.7 1603.8,2260.0 1603.8,2303.4 1604.3,2298.5 1604.3,2262.7 1604.8,2274.2 1604.8,2297.8 1605.3,2289.7 1605.3,2269.5 1605.8,2276.5 1605.8,2292.4 1606.3,2307.5 1606.3,2266.8 1606.8,2270.9 1606.8,2303.0 1607.3,2305.5 1607.3,2279.3 1607.8,2276.0 1607.8,2304.0 1608.3,2299.9 1608.3,2273.6 1608.8,2272.8 1608.8,2316.6 1609.3,2299.2 1609.3,2271.8 1609.8,2281.3 1609.8,2305.0 1610.3,2300.2 1610.3,2275.7 1610.8,2276.8 1610.8,2301.6 1611.3,2312.2 1611.3,2287.8 1611.8,2277.5 1611.8,2304.6 1612.3,2302.3 1612.3,2284.7 1612.8,2279.6 1612.8,2297.4 1613.3,2299.8 1613.3,2263.1 1613.8,2262.0 1613.8,2300.7 1614.3,2302.2 1614.3,2259.8 1614.8,2271.2 1614.8,2300.9 1615.3,2297.2 1615.3,2273.2 1615.8,2285.2 1615.8,2296.6 1616.3,2292.8 1616.3,2274.7 1616.8,2279.8 1616.8,2302.9 1617.3,2310.0 1617.3,2275.5 1617.8,2270.2 1617.8,2312.5 1618.3,2298.5 1618.3,2272.4 1618.5,2276.9 1618.5,2276.9" fill="none" stroke="#0000ff" stroke-width="5.0" stroke-linejoin="miter" stroke-linecap="butt" clip-path="url(#c3)"/>
<text transform="translate(439.20,2302.35) scale(0.9970,0.8996)" font-size="79.4" text-anchor="end" fill="#262626">0.98</text>
<text transform="translate(439.20,2701.05) scale(0.9970,0.8996)" font-size="79.4" text-anchor="end" fill="#262626">0.78</text>
<text transform="translate(473.65,2973.40) scale(0.9970,0.8996)" font-size="79.4" text-anchor="middle" fill="#262626">0</text>
<g transform="translate(810.62,2973.40) scale(0.9970,0.8996)">
<text font-size="79.4" fill="#262626"><tspan dx="3.37">1</tspan><tspan dx="-3.37">0</tspan></text>
<rect x="7.87" y="-8.26" width="15.47" height="9.81" fill="#fff"/>
<rect x="30.36" y="-8.26" width="15.24" height="9.81" fill="#fff"/>
</g>
<text transform="translate(1235.65,2973.40) scale(0.9970,0.8996)" font-size="79.4" text-anchor="middle" fill="#262626">20</text>
<text transform="translate(1616.65,2973.40) scale(0.9970,0.8996)" font-size="79.4" text-anchor="middle" fill="#262626">30</text>
<text transform="translate(1047.90,3078.00) scale(0.9960,0.8900)" font-size="84.6" text-anchor="middle" fill="#262626">Time (s)</text>
<text transform="translate(244.00,2493.00) rotate(-90) scale(0.8885,0.9950)" font-size="84.6" text-anchor="middle" fill="#262626">Resistance (ohms)</text>
<rect x="678.00" y="2735.90" width="923.90" height="108.80" fill="#ffffff"/>
<rect x="678.00" y="2735.90" width="923.90" height="5.10" fill="#262626"/>
<rect x="678.00" y="2840.10" width="923.90" height="4.60" fill="#262626"/>
<rect x="678.00" y="2735.90" width="5.00" height="108.80" fill="#262626"/>
<rect x="1597.20" y="2735.90" width="4.70" height="108.80" fill="#262626"/>
<rect x="702.95" y="2787.90" width="175.65" height="5.00" fill="#0000ff"/>
<text transform="translate(894.84,2815.00) scale(1.0030,0.8850)" font-size="70" text-anchor="start" fill="#000">Estimated Resistance</text>
</g>
</svg>
</body></html>
